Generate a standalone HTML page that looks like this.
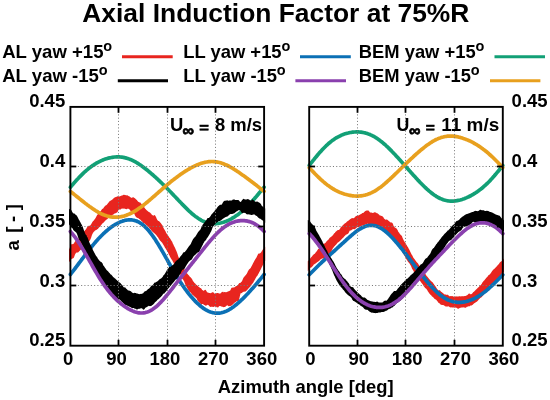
<!DOCTYPE html>
<html><head><meta charset="utf-8"><title>Axial Induction Factor at 75%R</title>
<style>
html,body{margin:0;padding:0;background:#fff;}
svg{display:block;}
text{font-family:"Liberation Sans", "DejaVu Sans", sans-serif;font-weight:bold;fill:#000;}
.g{stroke:#7a7a7a;stroke-width:1;stroke-dasharray:1.05 2.2;}
.t{stroke:#000;stroke-width:1.8;}
</style></head><body>
<svg width="550" height="400" viewBox="0 0 550 400">
<rect width="550" height="400" fill="#fff"/>
<path d="M69.0,249.5 L69.6,248.3 L70.2,246.4 L70.8,245.3 L71.4,244.2 L72.0,244.1 L72.6,244.3 L73.2,244.1 L73.8,243.5 L74.4,242.5 L75.0,241.6 L75.6,241.1 L76.2,240.8 L76.8,240.2 L77.4,239.7 L78.0,239.1 L78.6,238.6 L79.2,238.0 L79.8,237.7 L80.4,236.8 L81.0,236.2 L81.6,235.1 L82.2,233.9 L82.8,232.8 L83.4,232.2 L84.0,231.5 L84.6,231.1 L85.2,230.0 L85.8,229.4 L86.4,228.5 L87.0,227.6 L87.6,226.3 L88.2,226.0 L88.8,225.7 L89.4,225.8 L90.0,225.7 L90.6,225.1 L91.2,224.2 L91.8,222.9 L92.4,222.1 L93.0,221.2 L93.6,220.7 L94.2,219.8 L94.8,219.3 L95.4,218.2 L96.0,217.3 L96.6,215.9 L97.2,215.1 L97.8,214.2 L98.4,213.8 L99.0,212.9 L99.6,212.1 L100.2,211.5 L100.8,210.9 L101.4,210.0 L102.0,209.3 L102.6,208.8 L103.2,208.4 L103.8,207.5 L104.4,206.8 L105.0,206.0 L105.6,205.4 L106.2,205.2 L106.8,204.7 L107.4,203.9 L108.0,203.2 L108.6,202.4 L109.2,201.7 L109.8,200.9 L110.4,200.7 L111.0,200.6 L111.6,200.1 L112.2,199.7 L112.8,199.0 L113.4,198.4 L114.0,198.0 L114.6,197.5 L115.2,197.2 L115.8,197.1 L116.4,196.8 L117.0,196.7 L117.6,196.1 L118.2,196.7 L118.8,196.6 L119.4,196.5 L120.0,196.3 L120.6,196.0 L121.2,195.8 L121.8,195.6 L122.4,195.5 L123.0,194.9 L123.6,194.8 L124.2,194.9 L124.8,194.7 L125.4,195.2 L126.0,195.1 L126.6,195.4 L127.2,195.3 L127.8,195.6 L128.4,195.9 L129.0,196.2 L129.6,196.4 L130.2,197.1 L130.8,197.5 L131.4,197.9 L132.0,197.6 L132.6,197.5 L133.2,197.3 L133.8,197.6 L134.4,198.0 L135.0,198.3 L135.6,198.9 L136.2,199.4 L136.8,199.9 L137.4,200.8 L138.0,201.6 L138.6,202.0 L139.2,202.3 L139.8,202.4 L140.4,202.6 L141.0,203.6 L141.6,203.9 L142.2,205.0 L142.8,205.6 L143.4,206.4 L144.0,207.0 L144.6,207.8 L145.2,208.8 L145.8,209.3 L146.4,209.9 L147.0,210.4 L147.6,210.9 L148.2,211.5 L148.8,211.9 L149.4,212.3 L150.0,212.5 L150.6,213.3 L151.2,213.7 L151.8,214.7 L152.4,215.3 L153.0,215.3 L153.6,215.7 L154.2,215.2 L154.8,215.1 L155.4,215.9 L156.0,216.9 L156.6,218.4 L157.2,219.8 L157.8,220.5 L158.4,221.0 L159.0,221.0 L159.6,221.8 L160.2,222.6 L160.8,223.1 L161.4,223.9 L162.0,224.8 L162.6,225.6 L163.2,227.2 L163.8,228.4 L164.4,229.5 L165.0,230.5 L165.6,231.6 L166.2,233.0 L166.8,233.7 L167.4,234.7 L168.0,235.6 L168.6,236.2 L169.2,237.4 L169.8,238.0 L170.4,239.1 L171.0,239.9 L171.6,240.9 L172.2,241.8 L172.8,243.4 L173.4,244.6 L174.0,245.9 L174.6,247.0 L175.2,248.2 L175.8,249.7 L176.4,251.0 L177.0,252.5 L177.6,254.2 L178.2,256.2 L178.8,257.8 L179.4,259.4 L180.0,260.7 L180.6,261.8 L181.2,263.1 L181.8,264.5 L182.4,265.5 L183.0,266.5 L183.6,267.7 L184.2,269.0 L184.8,269.8 L185.4,271.1 L186.0,272.2 L186.6,273.2 L187.2,273.5 L187.8,274.2 L188.4,275.0 L189.0,275.5 L189.6,276.5 L190.2,276.9 L190.8,277.4 L191.4,278.3 L192.0,279.0 L192.6,280.3 L193.2,281.5 L193.8,281.8 L194.4,282.9 L195.0,283.3 L195.6,284.1 L196.2,284.7 L196.8,284.9 L197.4,285.6 L198.0,286.2 L198.6,286.7 L199.2,287.1 L199.8,287.8 L200.4,288.0 L201.0,288.3 L201.6,289.0 L202.2,289.9 L202.8,290.2 L203.4,290.7 L204.0,290.7 L204.6,290.1 L205.2,289.8 L205.8,290.0 L206.4,290.9 L207.0,292.1 L207.6,292.6 L208.2,292.8 L208.8,292.8 L209.4,293.0 L210.0,293.0 L210.6,293.2 L211.2,292.9 L211.8,292.4 L212.4,292.3 L213.0,292.3 L213.6,292.6 L214.2,293.4 L214.8,293.5 L215.4,293.9 L216.0,293.5 L216.6,293.0 L217.2,293.0 L217.8,292.9 L218.4,293.0 L219.0,293.7 L219.6,293.6 L220.2,293.3 L220.8,293.4 L221.4,292.3 L222.0,292.2 L222.6,291.8 L223.2,291.8 L223.8,292.4 L224.4,292.0 L225.0,292.0 L225.6,292.2 L226.2,292.2 L226.8,292.1 L227.4,291.8 L228.0,291.6 L228.6,291.2 L229.2,291.1 L229.8,290.8 L230.4,290.3 L231.0,288.7 L231.6,287.8 L232.2,287.7 L232.8,287.4 L233.4,287.6 L234.0,287.4 L234.6,287.2 L235.2,286.6 L235.8,286.5 L236.4,285.9 L237.0,285.7 L237.6,285.4 L238.2,284.4 L238.8,283.7 L239.4,283.1 L240.0,283.0 L240.6,282.8 L241.2,282.1 L241.8,281.6 L242.4,280.3 L243.0,278.8 L243.6,277.4 L244.2,276.9 L244.8,276.1 L245.4,275.5 L246.0,274.8 L246.6,273.9 L247.2,272.9 L247.8,271.5 L248.4,270.5 L249.0,269.5 L249.6,269.0 L250.2,268.6 L250.8,267.8 L251.4,266.5 L252.0,265.6 L252.6,264.3 L253.2,263.0 L253.8,262.0 L254.4,260.8 L255.0,259.8 L255.6,258.7 L256.2,258.1 L256.8,256.8 L257.4,255.5 L258.0,254.3 L258.6,253.6 L259.2,253.5 L259.8,253.4 L260.4,252.9 L261.0,252.4 L261.6,251.5 L262.2,250.5 L262.8,249.6 L263.4,248.9 L264.0,248.1 L264.6,247.5 L265.2,246.8 L265.2,261.1 L264.6,261.6 L264.0,262.9 L263.4,263.8 L262.8,265.2 L262.2,266.4 L261.6,267.4 L261.0,268.9 L260.4,269.9 L259.8,271.2 L259.2,272.3 L258.6,273.5 L258.0,274.5 L257.4,275.7 L256.8,276.2 L256.2,277.3 L255.6,278.2 L255.0,279.4 L254.4,280.6 L253.8,281.4 L253.2,282.7 L252.6,283.4 L252.0,284.1 L251.4,285.0 L250.8,285.9 L250.2,286.7 L249.6,287.2 L249.0,288.0 L248.4,288.4 L247.8,289.2 L247.2,290.1 L246.6,290.6 L246.0,291.2 L245.4,291.4 L244.8,291.6 L244.2,291.7 L243.6,291.8 L243.0,292.1 L242.4,292.4 L241.8,293.0 L241.2,293.3 L240.6,293.3 L240.0,295.5 L239.4,298.2 L238.8,300.6 L238.2,301.2 L237.6,301.1 L237.0,301.0 L236.4,301.6 L235.8,302.0 L235.2,302.3 L234.6,302.7 L234.0,303.4 L233.4,303.7 L232.8,304.6 L232.2,305.1 L231.6,305.4 L231.0,305.7 L230.4,306.1 L229.8,306.0 L229.2,306.3 L228.6,306.3 L228.0,305.7 L227.4,305.3 L226.8,305.6 L226.2,306.0 L225.6,306.6 L225.0,307.0 L224.4,307.0 L223.8,307.2 L223.2,306.9 L222.6,306.8 L222.0,306.8 L221.4,306.5 L220.8,306.3 L220.2,305.9 L219.6,306.1 L219.0,306.3 L218.4,307.3 L217.8,307.4 L217.2,307.3 L216.6,307.3 L216.0,306.5 L215.4,306.4 L214.8,306.5 L214.2,306.5 L213.6,306.9 L213.0,306.9 L212.4,306.8 L211.8,306.8 L211.2,306.8 L210.6,306.9 L210.0,306.7 L209.4,306.2 L208.8,305.4 L208.2,304.9 L207.6,304.7 L207.0,305.2 L206.4,305.4 L205.8,305.7 L205.2,305.5 L204.6,305.0 L204.0,305.0 L203.4,304.3 L202.8,304.1 L202.2,304.1 L201.6,304.7 L201.0,304.4 L200.4,303.6 L199.8,303.6 L199.2,302.3 L198.6,301.8 L198.0,301.2 L197.4,300.3 L196.8,298.8 L196.2,298.0 L195.6,297.5 L195.0,297.0 L194.4,296.4 L193.8,295.7 L193.2,295.5 L192.6,295.1 L192.0,294.2 L191.4,293.5 L190.8,292.8 L190.2,291.9 L189.6,291.9 L189.0,291.0 L188.4,290.1 L187.8,289.3 L187.2,287.9 L186.6,287.1 L186.0,286.0 L185.4,284.7 L184.8,283.2 L184.2,281.6 L183.6,280.5 L183.0,279.6 L182.4,278.9 L181.8,277.7 L181.2,276.4 L180.6,275.3 L180.0,273.9 L179.4,273.0 L178.8,271.9 L178.2,270.6 L177.6,269.6 L177.0,268.9 L176.4,267.6 L175.8,266.9 L175.2,266.0 L174.6,264.9 L174.0,264.0 L173.4,262.6 L172.8,261.6 L172.2,260.3 L171.6,259.5 L171.0,258.6 L170.4,257.5 L169.8,256.3 L169.2,255.0 L168.6,254.0 L168.0,252.4 L167.4,251.3 L166.8,250.4 L166.2,249.6 L165.6,248.6 L165.0,247.7 L164.4,246.5 L163.8,245.5 L163.2,244.5 L162.6,243.4 L162.0,242.5 L161.4,241.9 L160.8,241.3 L160.2,240.7 L159.6,240.0 L159.0,238.9 L158.4,237.9 L157.8,237.0 L157.2,236.4 L156.6,235.4 L156.0,234.7 L155.4,234.3 L154.8,233.5 L154.2,233.2 L153.6,232.5 L153.0,232.3 L152.4,231.5 L151.8,230.9 L151.2,230.2 L150.6,229.3 L150.0,228.9 L149.4,228.2 L148.8,227.3 L148.2,226.8 L147.6,226.3 L147.0,225.6 L146.4,225.2 L145.8,224.6 L145.2,224.2 L144.6,223.3 L144.0,223.4 L143.4,223.0 L142.8,222.5 L142.2,221.6 L141.6,220.9 L141.0,220.4 L140.4,219.8 L139.8,219.3 L139.2,219.1 L138.6,218.6 L138.0,217.7 L137.4,217.9 L136.8,217.8 L136.2,217.1 L135.6,216.5 L135.0,215.4 L134.4,214.0 L133.8,212.7 L133.2,212.2 L132.6,211.8 L132.0,211.8 L131.4,211.5 L130.8,211.0 L130.2,210.5 L129.6,209.5 L129.0,208.9 L128.4,208.8 L127.8,208.6 L127.2,209.1 L126.6,209.2 L126.0,209.1 L125.4,208.9 L124.8,208.6 L124.2,208.7 L123.6,208.4 L123.0,208.8 L122.4,208.5 L121.8,208.6 L121.2,209.1 L120.6,209.4 L120.0,209.5 L119.4,209.6 L118.8,209.7 L118.2,210.5 L117.6,211.9 L117.0,212.4 L116.4,212.8 L115.8,213.3 L115.2,213.2 L114.6,213.6 L114.0,214.0 L113.4,214.5 L112.8,214.8 L112.2,215.1 L111.6,215.6 L111.0,216.2 L110.4,217.1 L109.8,217.9 L109.2,218.0 L108.6,217.9 L108.0,218.2 L107.4,219.0 L106.8,219.5 L106.2,219.8 L105.6,220.3 L105.0,221.2 L104.4,221.6 L103.8,222.3 L103.2,223.0 L102.6,223.2 L102.0,224.0 L101.4,224.8 L100.8,225.6 L100.2,226.6 L99.6,227.1 L99.0,227.6 L98.4,228.2 L97.8,228.9 L97.2,229.2 L96.6,229.9 L96.0,229.7 L95.4,230.4 L94.8,230.8 L94.2,231.4 L93.6,231.9 L93.0,233.0 L92.4,234.1 L91.8,235.4 L91.2,237.4 L90.6,239.1 L90.0,240.2 L89.4,241.1 L88.8,241.8 L88.2,242.7 L87.6,243.2 L87.0,243.8 L86.4,244.4 L85.8,244.7 L85.2,245.0 L84.6,245.5 L84.0,245.9 L83.4,246.5 L82.8,247.0 L82.2,247.7 L81.6,248.6 L81.0,249.6 L80.4,250.1 L79.8,250.7 L79.2,251.2 L78.6,252.0 L78.0,252.4 L77.4,252.6 L76.8,252.5 L76.2,252.7 L75.6,253.4 L75.0,254.5 L74.4,256.3 L73.8,257.7 L73.2,258.2 L72.6,258.6 L72.0,258.7 L71.4,259.3 L70.8,259.7 L70.2,260.6 L69.6,261.4 L69.0,262.2Z" fill="#e8251f"/>
<path d="M70.4,274.5 L71.4,273.2 L72.4,271.9 L73.4,270.6 L74.4,269.3 L75.4,268.0 L76.4,266.7 L77.4,265.3 L78.4,264.0 L79.4,262.7 L80.4,261.4 L81.4,260.0 L82.4,258.7 L83.4,257.4 L84.4,256.0 L85.4,254.7 L86.4,253.4 L87.4,252.1 L88.4,250.8 L89.4,249.5 L90.4,248.3 L91.4,247.0 L92.4,245.8 L93.4,244.6 L94.4,243.4 L95.4,242.2 L96.4,241.0 L97.4,239.9 L98.4,238.8 L99.4,237.8 L100.4,236.7 L101.4,235.7 L102.4,234.7 L103.4,233.7 L104.4,232.8 L105.4,231.9 L106.4,231.0 L107.4,230.2 L108.4,229.3 L109.4,228.5 L110.4,227.8 L111.4,227.0 L112.4,226.3 L113.4,225.7 L114.4,225.0 L115.4,224.4 L116.4,223.9 L117.4,223.3 L118.4,222.8 L119.4,222.3 L120.4,221.9 L121.4,221.5 L122.4,221.2 L123.4,220.8 L124.4,220.6 L125.4,220.3 L126.4,220.1 L127.4,220.0 L128.4,219.9 L129.4,219.8 L130.4,219.8 L131.4,219.9 L132.4,220.0 L133.4,220.2 L134.4,220.4 L135.4,220.7 L136.4,221.0 L137.4,221.5 L138.4,221.9 L139.4,222.5 L140.4,223.1 L141.4,223.8 L142.4,224.5 L143.4,225.3 L144.4,226.2 L145.4,227.1 L146.4,228.1 L147.4,229.2 L148.4,230.3 L149.4,231.5 L150.4,232.8 L151.4,234.1 L152.4,235.5 L153.4,236.9 L154.4,238.3 L155.4,239.8 L156.4,241.4 L157.4,243.0 L158.4,244.6 L159.4,246.3 L160.4,247.9 L161.4,249.7 L162.4,251.4 L163.4,253.1 L164.4,254.9 L165.4,256.7 L166.4,258.4 L167.4,260.2 L168.4,262.0 L169.4,263.7 L170.4,265.5 L171.4,267.2 L172.4,269.0 L173.4,270.7 L174.4,272.4 L175.4,274.1 L176.4,275.7 L177.4,277.4 L178.4,279.0 L179.4,280.5 L180.4,282.1 L181.4,283.6 L182.4,285.1 L183.4,286.5 L184.4,288.0 L185.4,289.4 L186.4,290.7 L187.4,292.0 L188.4,293.3 L189.4,294.6 L190.4,295.8 L191.4,297.0 L192.4,298.1 L193.4,299.2 L194.4,300.3 L195.4,301.4 L196.4,302.4 L197.4,303.3 L198.4,304.2 L199.4,305.1 L200.4,306.0 L201.4,306.8 L202.4,307.5 L203.4,308.3 L204.4,308.9 L205.4,309.6 L206.4,310.1 L207.4,310.7 L208.4,311.2 L209.4,311.6 L210.4,312.0 L211.4,312.3 L212.4,312.6 L213.4,312.8 L214.4,313.0 L215.4,313.1 L216.4,313.2 L217.4,313.2 L218.4,313.2 L219.4,313.1 L220.4,313.0 L221.4,312.8 L222.4,312.5 L223.4,312.3 L224.4,311.9 L225.4,311.5 L226.4,311.1 L227.4,310.6 L228.4,310.1 L229.4,309.5 L230.4,308.9 L231.4,308.3 L232.4,307.6 L233.4,306.9 L234.4,306.1 L235.4,305.3 L236.4,304.5 L237.4,303.6 L238.4,302.8 L239.4,301.9 L240.4,301.0 L241.4,300.0 L242.4,299.1 L243.4,298.1 L244.4,297.1 L245.4,296.1 L246.4,295.0 L247.4,294.0 L248.4,292.9 L249.4,291.8 L250.4,290.7 L251.4,289.6 L252.4,288.5 L253.4,287.4 L254.4,286.2 L255.4,285.1 L256.4,283.9 L257.4,282.7 L258.4,281.5 L259.4,280.3 L260.4,279.1 L261.4,277.9 L262.4,276.6 L263.4,275.3 L264.1,274.5" fill="none" stroke="#0b70b5" stroke-width="3.7" stroke-linecap="round" stroke-linejoin="round"/>
<path d="M70.4,187.2 L71.4,186.1 L72.4,184.9 L73.4,183.7 L74.4,182.6 L75.4,181.4 L76.4,180.3 L77.4,179.2 L78.4,178.2 L79.4,177.1 L80.4,176.1 L81.4,175.1 L82.4,174.1 L83.4,173.1 L84.4,172.2 L85.4,171.3 L86.4,170.4 L87.4,169.6 L88.4,168.7 L89.4,167.9 L90.4,167.2 L91.4,166.4 L92.4,165.7 L93.4,165.1 L94.4,164.4 L95.4,163.8 L96.4,163.2 L97.4,162.6 L98.4,162.1 L99.4,161.6 L100.4,161.1 L101.4,160.6 L102.4,160.2 L103.4,159.8 L104.4,159.4 L105.4,159.0 L106.4,158.7 L107.4,158.4 L108.4,158.1 L109.4,157.9 L110.4,157.7 L111.4,157.5 L112.4,157.3 L113.4,157.2 L114.4,157.0 L115.4,157.0 L116.4,156.9 L117.4,156.9 L118.4,156.9 L119.4,156.9 L120.4,157.0 L121.4,157.1 L122.4,157.2 L123.4,157.4 L124.4,157.6 L125.4,157.9 L126.4,158.1 L127.4,158.4 L128.4,158.8 L129.4,159.1 L130.4,159.5 L131.4,159.9 L132.4,160.4 L133.4,160.9 L134.4,161.4 L135.4,161.9 L136.4,162.5 L137.4,163.1 L138.4,163.7 L139.4,164.4 L140.4,165.1 L141.4,165.8 L142.4,166.5 L143.4,167.2 L144.4,168.0 L145.4,168.7 L146.4,169.5 L147.4,170.3 L148.4,171.1 L149.4,172.0 L150.4,172.8 L151.4,173.7 L152.4,174.5 L153.4,175.4 L154.4,176.3 L155.4,177.2 L156.4,178.1 L157.4,179.0 L158.4,180.0 L159.4,180.9 L160.4,181.9 L161.4,182.8 L162.4,183.8 L163.4,184.7 L164.4,185.7 L165.4,186.7 L166.4,187.7 L167.4,188.7 L168.4,189.7 L169.4,190.8 L170.4,191.8 L171.4,192.8 L172.4,193.9 L173.4,194.9 L174.4,196.0 L175.4,197.0 L176.4,198.1 L177.4,199.1 L178.4,200.2 L179.4,201.2 L180.4,202.3 L181.4,203.3 L182.4,204.4 L183.4,205.4 L184.4,206.4 L185.4,207.4 L186.4,208.4 L187.4,209.4 L188.4,210.4 L189.4,211.3 L190.4,212.2 L191.4,213.1 L192.4,214.0 L193.4,214.8 L194.4,215.6 L195.4,216.4 L196.4,217.1 L197.4,217.8 L198.4,218.5 L199.4,219.1 L200.4,219.7 L201.4,220.3 L202.4,220.8 L203.4,221.3 L204.4,221.7 L205.4,222.1 L206.4,222.4 L207.4,222.7 L208.4,223.0 L209.4,223.2 L210.4,223.4 L211.4,223.5 L212.4,223.6 L213.4,223.7 L214.4,223.7 L215.4,223.7 L216.4,223.6 L217.4,223.5 L218.4,223.4 L219.4,223.2 L220.4,223.0 L221.4,222.8 L222.4,222.5 L223.4,222.3 L224.4,221.9 L225.4,221.6 L226.4,221.2 L227.4,220.8 L228.4,220.3 L229.4,219.8 L230.4,219.3 L231.4,218.8 L232.4,218.2 L233.4,217.6 L234.4,217.0 L235.4,216.3 L236.4,215.6 L237.4,214.9 L238.4,214.2 L239.4,213.4 L240.4,212.6 L241.4,211.8 L242.4,210.9 L243.4,210.0 L244.4,209.1 L245.4,208.2 L246.4,207.2 L247.4,206.2 L248.4,205.2 L249.4,204.2 L250.4,203.1 L251.4,202.0 L252.4,200.9 L253.4,199.8 L254.4,198.7 L255.4,197.5 L256.4,196.4 L257.4,195.2 L258.4,194.0 L259.4,192.8 L260.4,191.6 L261.4,190.4 L262.4,189.3 L263.4,188.1 L264.1,187.2" fill="none" stroke="#12a076" stroke-width="3.7" stroke-linecap="round" stroke-linejoin="round"/>
<path d="M69.0,209.6 L69.6,209.0 L70.2,208.9 L70.8,209.4 L71.4,210.3 L72.0,211.4 L72.6,212.5 L73.2,213.2 L73.8,213.4 L74.4,213.5 L75.0,213.9 L75.6,214.8 L76.2,215.2 L76.8,215.6 L77.4,216.7 L78.0,217.7 L78.6,219.2 L79.2,220.1 L79.8,221.2 L80.4,222.3 L81.0,223.6 L81.6,224.4 L82.2,225.7 L82.8,227.1 L83.4,228.8 L84.0,230.5 L84.6,232.1 L85.2,233.5 L85.8,234.7 L86.4,235.1 L87.0,236.8 L87.6,237.6 L88.2,239.2 L88.8,240.8 L89.4,242.5 L90.0,243.7 L90.6,244.9 L91.2,246.1 L91.8,247.5 L92.4,248.8 L93.0,250.3 L93.6,251.3 L94.2,252.5 L94.8,253.6 L95.4,254.7 L96.0,255.7 L96.6,256.5 L97.2,257.3 L97.8,258.6 L98.4,259.3 L99.0,260.2 L99.6,260.7 L100.2,261.5 L100.8,261.8 L101.4,262.0 L102.0,262.8 L102.6,263.6 L103.2,265.2 L103.8,266.1 L104.4,266.7 L105.0,267.8 L105.6,268.5 L106.2,269.4 L106.8,270.2 L107.4,270.7 L108.0,271.3 L108.6,272.1 L109.2,272.7 L109.8,273.3 L110.4,274.3 L111.0,274.6 L111.6,275.1 L112.2,275.7 L112.8,276.6 L113.4,277.3 L114.0,277.6 L114.6,278.3 L115.2,278.6 L115.8,279.3 L116.4,279.8 L117.0,280.3 L117.6,280.9 L118.2,281.1 L118.8,282.4 L119.4,282.2 L120.0,282.7 L120.6,283.3 L121.2,284.0 L121.8,284.8 L122.4,285.3 L123.0,286.3 L123.6,287.2 L124.2,287.3 L124.8,287.4 L125.4,287.5 L126.0,288.5 L126.6,289.0 L127.2,289.5 L127.8,290.2 L128.4,290.6 L129.0,290.6 L129.6,290.7 L130.2,290.9 L130.8,291.2 L131.4,291.8 L132.0,292.4 L132.6,292.8 L133.2,293.2 L133.8,293.1 L134.4,292.7 L135.0,293.0 L135.6,293.0 L136.2,293.3 L136.8,293.6 L137.4,293.5 L138.0,293.8 L138.6,293.9 L139.2,294.1 L139.8,294.3 L140.4,294.0 L141.0,293.7 L141.6,293.9 L142.2,293.6 L142.8,293.6 L143.4,292.9 L144.0,292.0 L144.6,291.4 L145.2,291.3 L145.8,291.0 L146.4,290.7 L147.0,290.3 L147.6,289.6 L148.2,289.1 L148.8,288.8 L149.4,288.2 L150.0,287.6 L150.6,286.8 L151.2,286.1 L151.8,285.6 L152.4,285.2 L153.0,284.8 L153.6,284.0 L154.2,283.1 L154.8,282.6 L155.4,282.6 L156.0,282.3 L156.6,281.7 L157.2,281.6 L157.8,281.0 L158.4,280.5 L159.0,279.8 L159.6,279.3 L160.2,278.9 L160.8,278.6 L161.4,278.3 L162.0,277.6 L162.6,277.0 L163.2,275.8 L163.8,274.9 L164.4,274.5 L165.0,273.6 L165.6,272.4 L166.2,271.4 L166.8,270.3 L167.4,269.6 L168.0,268.7 L168.6,268.0 L169.2,267.0 L169.8,266.9 L170.4,266.9 L171.0,266.4 L171.6,265.8 L172.2,265.4 L172.8,264.9 L173.4,264.5 L174.0,263.9 L174.6,263.0 L175.2,262.1 L175.8,261.2 L176.4,260.8 L177.0,260.1 L177.6,259.7 L178.2,259.4 L178.8,258.6 L179.4,258.0 L180.0,257.1 L180.6,256.2 L181.2,255.6 L181.8,255.0 L182.4,254.0 L183.0,252.9 L183.6,252.3 L184.2,252.2 L184.8,252.0 L185.4,251.2 L186.0,250.5 L186.6,249.8 L187.2,248.7 L187.8,248.0 L188.4,247.1 L189.0,246.3 L189.6,245.4 L190.2,244.8 L190.8,244.0 L191.4,242.4 L192.0,241.2 L192.6,240.0 L193.2,239.0 L193.8,238.2 L194.4,237.6 L195.0,237.0 L195.6,236.3 L196.2,235.3 L196.8,234.2 L197.4,233.2 L198.0,232.3 L198.6,231.4 L199.2,230.8 L199.8,230.3 L200.4,229.4 L201.0,228.2 L201.6,226.7 L202.2,225.7 L202.8,224.6 L203.4,224.0 L204.0,222.9 L204.6,222.2 L205.2,221.5 L205.8,220.7 L206.4,220.1 L207.0,219.0 L207.6,218.1 L208.2,218.1 L208.8,218.0 L209.4,217.6 L210.0,216.7 L210.6,216.0 L211.2,215.0 L211.8,214.0 L212.4,213.5 L213.0,213.0 L213.6,212.0 L214.2,211.7 L214.8,210.6 L215.4,210.0 L216.0,209.4 L216.6,208.4 L217.2,207.6 L217.8,206.7 L218.4,206.1 L219.0,205.7 L219.6,204.9 L220.2,204.7 L220.8,204.7 L221.4,204.7 L222.0,204.2 L222.6,203.1 L223.2,201.9 L223.8,201.2 L224.4,201.0 L225.0,200.6 L225.6,200.7 L226.2,200.8 L226.8,200.2 L227.4,200.2 L228.0,200.7 L228.6,200.7 L229.2,200.5 L229.8,200.5 L230.4,200.5 L231.0,200.6 L231.6,200.4 L232.2,200.3 L232.8,199.6 L233.4,199.4 L234.0,199.5 L234.6,199.5 L235.2,199.9 L235.8,200.0 L236.4,199.9 L237.0,200.1 L237.6,200.1 L238.2,200.0 L238.8,200.3 L239.4,201.0 L240.0,201.7 L240.6,202.0 L241.2,201.6 L241.8,200.5 L242.4,199.7 L243.0,199.2 L243.6,198.8 L244.2,199.1 L244.8,199.4 L245.4,199.4 L246.0,199.5 L246.6,199.5 L247.2,199.1 L247.8,199.2 L248.4,199.3 L249.0,199.6 L249.6,200.0 L250.2,200.5 L250.8,200.5 L251.4,200.4 L252.0,199.6 L252.6,199.6 L253.2,199.9 L253.8,200.3 L254.4,201.0 L255.0,201.6 L255.6,201.7 L256.2,201.7 L256.8,201.5 L257.4,201.5 L258.0,202.1 L258.6,202.2 L259.2,202.8 L259.8,202.8 L260.4,203.4 L261.0,204.3 L261.6,205.6 L262.2,206.2 L262.8,206.6 L263.4,207.4 L264.0,207.6 L264.6,208.0 L265.2,208.5 L265.2,222.8 L264.6,222.2 L264.0,221.5 L263.4,220.9 L262.8,220.5 L262.2,220.2 L261.6,219.7 L261.0,219.2 L260.4,218.7 L259.8,218.7 L259.2,218.2 L258.6,217.9 L258.0,217.3 L257.4,216.7 L256.8,215.8 L256.2,215.9 L255.6,215.5 L255.0,214.8 L254.4,214.6 L253.8,214.4 L253.2,214.6 L252.6,214.8 L252.0,214.9 L251.4,215.0 L250.8,214.8 L250.2,214.8 L249.6,214.5 L249.0,214.4 L248.4,214.2 L247.8,214.4 L247.2,214.2 L246.6,214.3 L246.0,213.8 L245.4,213.0 L244.8,213.0 L244.2,212.7 L243.6,212.8 L243.0,213.0 L242.4,213.2 L241.8,212.9 L241.2,212.1 L240.6,211.1 L240.0,210.2 L239.4,210.3 L238.8,210.4 L238.2,210.1 L237.6,210.9 L237.0,211.2 L236.4,211.5 L235.8,212.0 L235.2,212.6 L234.6,213.0 L234.0,213.4 L233.4,213.6 L232.8,213.7 L232.2,213.9 L231.6,213.9 L231.0,214.1 L230.4,214.1 L229.8,214.4 L229.2,214.8 L228.6,215.6 L228.0,216.1 L227.4,216.4 L226.8,216.7 L226.2,216.7 L225.6,217.0 L225.0,217.4 L224.4,217.7 L223.8,218.3 L223.2,218.4 L222.6,219.1 L222.0,219.5 L221.4,219.9 L220.8,220.4 L220.2,220.8 L219.6,221.0 L219.0,220.9 L218.4,221.3 L217.8,221.9 L217.2,222.3 L216.6,222.7 L216.0,223.0 L215.4,223.8 L214.8,224.4 L214.2,224.9 L213.6,225.9 L213.0,226.7 L212.4,227.9 L211.8,229.8 L211.2,231.3 L210.6,232.2 L210.0,233.6 L209.4,234.6 L208.8,235.5 L208.2,236.4 L207.6,237.5 L207.0,238.0 L206.4,239.2 L205.8,240.2 L205.2,240.8 L204.6,241.3 L204.0,242.5 L203.4,243.3 L202.8,244.8 L202.2,245.8 L201.6,247.0 L201.0,248.2 L200.4,249.3 L199.8,250.8 L199.2,251.7 L198.6,251.9 L198.0,252.3 L197.4,252.8 L196.8,253.2 L196.2,253.7 L195.6,254.5 L195.0,255.0 L194.4,255.5 L193.8,256.1 L193.2,257.1 L192.6,258.1 L192.0,259.0 L191.4,259.7 L190.8,260.3 L190.2,260.3 L189.6,261.0 L189.0,261.4 L188.4,262.2 L187.8,263.3 L187.2,263.9 L186.6,264.9 L186.0,265.9 L185.4,267.1 L184.8,268.2 L184.2,268.9 L183.6,269.3 L183.0,269.7 L182.4,269.8 L181.8,270.7 L181.2,271.9 L180.6,273.4 L180.0,274.3 L179.4,275.5 L178.8,276.3 L178.2,276.9 L177.6,277.8 L177.0,278.7 L176.4,279.0 L175.8,279.5 L175.2,280.3 L174.6,280.9 L174.0,281.7 L173.4,282.5 L172.8,283.1 L172.2,284.0 L171.6,284.6 L171.0,285.5 L170.4,285.9 L169.8,286.8 L169.2,287.4 L168.6,288.2 L168.0,288.8 L167.4,289.7 L166.8,290.6 L166.2,291.3 L165.6,292.1 L165.0,292.6 L164.4,293.5 L163.8,293.5 L163.2,293.9 L162.6,294.8 L162.0,295.8 L161.4,296.3 L160.8,297.1 L160.2,297.5 L159.6,298.0 L159.0,298.7 L158.4,299.3 L157.8,299.6 L157.2,300.3 L156.6,300.9 L156.0,301.6 L155.4,301.9 L154.8,302.4 L154.2,303.4 L153.6,304.0 L153.0,304.7 L152.4,305.1 L151.8,305.6 L151.2,305.9 L150.6,306.0 L150.0,306.3 L149.4,306.0 L148.8,305.8 L148.2,306.3 L147.6,306.4 L147.0,307.0 L146.4,307.2 L145.8,307.6 L145.2,307.9 L144.6,308.9 L144.0,309.4 L143.4,309.7 L142.8,309.3 L142.2,308.4 L141.6,308.2 L141.0,308.3 L140.4,308.6 L139.8,308.6 L139.2,309.1 L138.6,308.8 L138.0,308.9 L137.4,309.5 L136.8,309.5 L136.2,309.3 L135.6,308.8 L135.0,308.8 L134.4,308.5 L133.8,308.1 L133.2,308.1 L132.6,308.3 L132.0,308.1 L131.4,307.8 L130.8,307.3 L130.2,307.0 L129.6,306.7 L129.0,306.5 L128.4,306.3 L127.8,306.0 L127.2,305.6 L126.6,305.4 L126.0,305.1 L125.4,305.1 L124.8,304.6 L124.2,304.1 L123.6,303.6 L123.0,302.9 L122.4,302.2 L121.8,301.8 L121.2,301.3 L120.6,300.4 L120.0,299.7 L119.4,299.4 L118.8,299.3 L118.2,299.8 L117.6,299.5 L117.0,299.2 L116.4,298.6 L115.8,297.5 L115.2,296.9 L114.6,296.6 L114.0,295.6 L113.4,295.4 L112.8,294.7 L112.2,294.1 L111.6,293.8 L111.0,293.6 L110.4,293.2 L109.8,292.8 L109.2,291.5 L108.6,290.2 L108.0,289.3 L107.4,288.5 L106.8,287.8 L106.2,287.7 L105.6,286.9 L105.0,286.2 L104.4,285.5 L103.8,284.2 L103.2,283.4 L102.6,282.4 L102.0,281.3 L101.4,280.3 L100.8,279.4 L100.2,278.5 L99.6,277.6 L99.0,276.5 L98.4,275.5 L97.8,274.5 L97.2,273.6 L96.6,272.4 L96.0,271.5 L95.4,270.6 L94.8,269.5 L94.2,269.2 L93.6,268.3 L93.0,267.2 L92.4,266.2 L91.8,265.7 L91.2,264.7 L90.6,263.8 L90.0,262.0 L89.4,260.5 L88.8,259.0 L88.2,258.0 L87.6,257.0 L87.0,255.9 L86.4,254.7 L85.8,253.6 L85.2,252.1 L84.6,250.5 L84.0,249.1 L83.4,247.7 L82.8,246.2 L82.2,244.7 L81.6,243.6 L81.0,242.2 L80.4,241.1 L79.8,240.6 L79.2,239.8 L78.6,238.6 L78.0,236.9 L77.4,235.0 L76.8,233.4 L76.2,232.6 L75.6,231.9 L75.0,231.6 L74.4,231.0 L73.8,230.4 L73.2,229.8 L72.6,228.6 L72.0,227.7 L71.4,227.2 L70.8,226.4 L70.2,225.9 L69.6,224.9 L69.0,224.4Z" fill="#000000"/>
<path d="M70.4,231.5 L71.4,232.7 L72.4,233.8 L73.4,235.1 L74.4,236.4 L75.4,237.7 L76.4,239.1 L77.4,240.6 L78.4,242.1 L79.4,243.6 L80.4,245.2 L81.4,246.8 L82.4,248.4 L83.4,250.1 L84.4,251.8 L85.4,253.6 L86.4,255.3 L87.4,257.1 L88.4,258.9 L89.4,260.7 L90.4,262.4 L91.4,264.2 L92.4,266.0 L93.4,267.8 L94.4,269.5 L95.4,271.2 L96.4,272.9 L97.4,274.6 L98.4,276.3 L99.4,277.9 L100.4,279.5 L101.4,281.0 L102.4,282.5 L103.4,284.0 L104.4,285.5 L105.4,286.9 L106.4,288.2 L107.4,289.5 L108.4,290.8 L109.4,292.0 L110.4,293.2 L111.4,294.4 L112.4,295.5 L113.4,296.6 L114.4,297.6 L115.4,298.6 L116.4,299.6 L117.4,300.6 L118.4,301.5 L119.4,302.3 L120.4,303.2 L121.4,304.0 L122.4,304.8 L123.4,305.5 L124.4,306.3 L125.4,307.0 L126.4,307.6 L127.4,308.3 L128.4,308.9 L129.4,309.4 L130.4,310.0 L131.4,310.4 L132.4,310.9 L133.4,311.3 L134.4,311.7 L135.4,312.0 L136.4,312.3 L137.4,312.6 L138.4,312.8 L139.4,312.9 L140.4,313.0 L141.4,313.0 L142.4,313.0 L143.4,312.9 L144.4,312.8 L145.4,312.6 L146.4,312.3 L147.4,312.0 L148.4,311.6 L149.4,311.2 L150.4,310.7 L151.4,310.1 L152.4,309.5 L153.4,308.8 L154.4,308.1 L155.4,307.3 L156.4,306.5 L157.4,305.6 L158.4,304.6 L159.4,303.7 L160.4,302.6 L161.4,301.6 L162.4,300.5 L163.4,299.4 L164.4,298.2 L165.4,297.0 L166.4,295.8 L167.4,294.6 L168.4,293.4 L169.4,292.1 L170.4,290.8 L171.4,289.6 L172.4,288.3 L173.4,287.0 L174.4,285.7 L175.4,284.4 L176.4,283.2 L177.4,281.9 L178.4,280.6 L179.4,279.3 L180.4,278.0 L181.4,276.8 L182.4,275.5 L183.4,274.2 L184.4,273.0 L185.4,271.7 L186.4,270.5 L187.4,269.2 L188.4,268.0 L189.4,266.7 L190.4,265.4 L191.4,264.2 L192.4,262.9 L193.4,261.7 L194.4,260.4 L195.4,259.2 L196.4,257.9 L197.4,256.6 L198.4,255.4 L199.4,254.1 L200.4,252.9 L201.4,251.6 L202.4,250.3 L203.4,249.1 L204.4,247.8 L205.4,246.6 L206.4,245.4 L207.4,244.1 L208.4,242.9 L209.4,241.7 L210.4,240.6 L211.4,239.4 L212.4,238.3 L213.4,237.2 L214.4,236.1 L215.4,235.0 L216.4,234.0 L217.4,233.0 L218.4,232.0 L219.4,231.1 L220.4,230.2 L221.4,229.3 L222.4,228.5 L223.4,227.7 L224.4,227.0 L225.4,226.3 L226.4,225.7 L227.4,225.0 L228.4,224.5 L229.4,223.9 L230.4,223.4 L231.4,223.0 L232.4,222.6 L233.4,222.2 L234.4,221.9 L235.4,221.6 L236.4,221.3 L237.4,221.1 L238.4,220.9 L239.4,220.8 L240.4,220.7 L241.4,220.6 L242.4,220.6 L243.4,220.6 L244.4,220.7 L245.4,220.8 L246.4,220.9 L247.4,221.1 L248.4,221.4 L249.4,221.6 L250.4,221.9 L251.4,222.3 L252.4,222.7 L253.4,223.2 L254.4,223.7 L255.4,224.3 L256.4,224.9 L257.4,225.6 L258.4,226.3 L259.4,227.1 L260.4,227.9 L261.4,228.8 L262.4,229.8 L263.4,230.8 L264.1,231.5" fill="none" stroke="#8a40ae" stroke-width="3.7" stroke-linecap="round" stroke-linejoin="round"/>
<path d="M70.4,191.4 L71.4,192.2 L72.4,193.0 L73.4,193.8 L74.4,194.6 L75.4,195.4 L76.4,196.2 L77.4,197.0 L78.4,197.8 L79.4,198.6 L80.4,199.4 L81.4,200.2 L82.4,201.0 L83.4,201.8 L84.4,202.6 L85.4,203.4 L86.4,204.1 L87.4,204.9 L88.4,205.6 L89.4,206.4 L90.4,207.1 L91.4,207.8 L92.4,208.5 L93.4,209.2 L94.4,209.8 L95.4,210.5 L96.4,211.1 L97.4,211.7 L98.4,212.3 L99.4,212.8 L100.4,213.3 L101.4,213.8 L102.4,214.3 L103.4,214.7 L104.4,215.1 L105.4,215.4 L106.4,215.8 L107.4,216.1 L108.4,216.3 L109.4,216.6 L110.4,216.8 L111.4,216.9 L112.4,217.1 L113.4,217.1 L114.4,217.2 L115.4,217.2 L116.4,217.2 L117.4,217.2 L118.4,217.1 L119.4,217.0 L120.4,216.8 L121.4,216.6 L122.4,216.4 L123.4,216.2 L124.4,215.9 L125.4,215.6 L126.4,215.2 L127.4,214.8 L128.4,214.4 L129.4,214.0 L130.4,213.5 L131.4,213.0 L132.4,212.5 L133.4,212.0 L134.4,211.4 L135.4,210.8 L136.4,210.2 L137.4,209.5 L138.4,208.8 L139.4,208.1 L140.4,207.4 L141.4,206.7 L142.4,206.0 L143.4,205.2 L144.4,204.4 L145.4,203.6 L146.4,202.8 L147.4,202.0 L148.4,201.1 L149.4,200.3 L150.4,199.4 L151.4,198.6 L152.4,197.7 L153.4,196.8 L154.4,196.0 L155.4,195.1 L156.4,194.2 L157.4,193.3 L158.4,192.4 L159.4,191.5 L160.4,190.7 L161.4,189.8 L162.4,188.9 L163.4,188.0 L164.4,187.2 L165.4,186.3 L166.4,185.5 L167.4,184.6 L168.4,183.8 L169.4,183.0 L170.4,182.1 L171.4,181.3 L172.4,180.5 L173.4,179.8 L174.4,179.0 L175.4,178.2 L176.4,177.5 L177.4,176.7 L178.4,176.0 L179.4,175.3 L180.4,174.5 L181.4,173.8 L182.4,173.2 L183.4,172.5 L184.4,171.8 L185.4,171.2 L186.4,170.6 L187.4,170.0 L188.4,169.4 L189.4,168.8 L190.4,168.2 L191.4,167.7 L192.4,167.1 L193.4,166.6 L194.4,166.1 L195.4,165.6 L196.4,165.2 L197.4,164.8 L198.4,164.4 L199.4,164.0 L200.4,163.6 L201.4,163.3 L202.4,163.0 L203.4,162.7 L204.4,162.4 L205.4,162.2 L206.4,162.0 L207.4,161.9 L208.4,161.7 L209.4,161.6 L210.4,161.6 L211.4,161.5 L212.4,161.5 L213.4,161.6 L214.4,161.7 L215.4,161.8 L216.4,161.9 L217.4,162.1 L218.4,162.3 L219.4,162.5 L220.4,162.8 L221.4,163.1 L222.4,163.4 L223.4,163.8 L224.4,164.2 L225.4,164.6 L226.4,165.0 L227.4,165.5 L228.4,166.0 L229.4,166.5 L230.4,167.1 L231.4,167.6 L232.4,168.2 L233.4,168.8 L234.4,169.5 L235.4,170.1 L236.4,170.7 L237.4,171.4 L238.4,172.1 L239.4,172.8 L240.4,173.5 L241.4,174.2 L242.4,174.9 L243.4,175.6 L244.4,176.3 L245.4,177.0 L246.4,177.8 L247.4,178.5 L248.4,179.3 L249.4,180.0 L250.4,180.8 L251.4,181.5 L252.4,182.3 L253.4,183.0 L254.4,183.8 L255.4,184.6 L256.4,185.3 L257.4,186.1 L258.4,186.9 L259.4,187.7 L260.4,188.4 L261.4,189.2 L262.4,190.0 L263.4,190.8 L264.1,191.4" fill="none" stroke="#e8a01e" stroke-width="3.7" stroke-linecap="round" stroke-linejoin="round"/>
<line x1="118.5" y1="107.9" x2="118.5" y2="345.7" class="g"/>
<line x1="167.5" y1="107.9" x2="167.5" y2="345.7" class="g"/>
<line x1="215.5" y1="107.9" x2="215.5" y2="345.7" class="g"/>
<line x1="71.4" y1="166.5" x2="264.1" y2="166.5" class="g"/>
<line x1="71.4" y1="226.5" x2="264.1" y2="226.5" class="g"/>
<line x1="71.4" y1="285.5" x2="264.1" y2="285.5" class="g"/>
<line x1="118.5" y1="345.7" x2="118.5" y2="339.8" class="t"/>
<line x1="118.5" y1="106.9" x2="118.5" y2="112.80000000000001" class="t"/>
<line x1="167.5" y1="345.7" x2="167.5" y2="339.8" class="t"/>
<line x1="167.5" y1="106.9" x2="167.5" y2="112.80000000000001" class="t"/>
<line x1="215.5" y1="345.7" x2="215.5" y2="339.8" class="t"/>
<line x1="215.5" y1="106.9" x2="215.5" y2="112.80000000000001" class="t"/>
<line x1="70.4" y1="166.5" x2="76.30000000000001" y2="166.5" class="t"/>
<line x1="264.1" y1="166.5" x2="258.20000000000005" y2="166.5" class="t"/>
<line x1="70.4" y1="226.5" x2="76.30000000000001" y2="226.5" class="t"/>
<line x1="264.1" y1="226.5" x2="258.20000000000005" y2="226.5" class="t"/>
<line x1="70.4" y1="285.5" x2="76.30000000000001" y2="285.5" class="t"/>
<line x1="264.1" y1="285.5" x2="258.20000000000005" y2="285.5" class="t"/>
<rect x="70.4" y="106.9" width="193.7" height="238.8" fill="none" stroke="#000" stroke-width="1.9"/>
<path d="M307.8,261.2 L308.4,260.7 L309.0,259.9 L309.6,259.4 L310.2,258.4 L310.8,257.7 L311.4,256.9 L312.0,256.5 L312.6,255.6 L313.2,254.9 L313.8,254.3 L314.4,254.0 L315.0,253.5 L315.6,252.6 L316.2,251.9 L316.8,251.0 L317.4,250.2 L318.0,249.3 L318.6,248.8 L319.2,248.3 L319.8,247.6 L320.4,247.0 L321.0,246.1 L321.6,245.0 L322.2,244.4 L322.8,243.9 L323.4,243.4 L324.0,243.7 L324.6,243.6 L325.2,243.0 L325.8,242.4 L326.4,241.6 L327.0,241.1 L327.6,240.3 L328.2,240.0 L328.8,238.9 L329.4,238.2 L330.0,237.6 L330.6,237.2 L331.2,236.8 L331.8,236.3 L332.4,235.8 L333.0,235.1 L333.6,234.2 L334.2,233.3 L334.8,232.9 L335.4,232.1 L336.0,231.6 L336.6,231.0 L337.2,230.6 L337.8,230.0 L338.4,229.9 L339.0,229.9 L339.6,229.3 L340.2,228.5 L340.8,227.3 L341.4,226.7 L342.0,226.2 L342.6,225.5 L343.2,224.8 L343.8,224.4 L344.4,223.8 L345.0,223.3 L345.6,223.1 L346.2,222.5 L346.8,221.7 L347.4,221.3 L348.0,221.0 L348.6,220.4 L349.2,220.1 L349.8,219.5 L350.4,219.1 L351.0,218.7 L351.6,218.2 L352.2,218.0 L352.8,218.3 L353.4,218.2 L354.0,218.0 L354.6,217.5 L355.2,216.7 L355.8,216.2 L356.4,215.8 L357.0,215.9 L357.6,215.9 L358.2,215.6 L358.8,215.3 L359.4,215.1 L360.0,214.6 L360.6,214.2 L361.2,213.9 L361.8,213.5 L362.4,213.1 L363.0,213.0 L363.6,212.8 L364.2,212.0 L364.8,211.4 L365.4,211.0 L366.0,210.7 L366.6,210.6 L367.2,210.6 L367.8,210.4 L368.4,210.6 L369.0,211.0 L369.6,212.1 L370.2,212.4 L370.8,212.4 L371.4,212.5 L372.0,212.8 L372.6,212.9 L373.2,212.8 L373.8,212.7 L374.4,212.2 L375.0,212.3 L375.6,212.5 L376.2,212.7 L376.8,213.3 L377.4,213.3 L378.0,213.8 L378.6,214.3 L379.2,214.8 L379.8,215.5 L380.4,215.5 L381.0,215.8 L381.6,216.0 L382.2,216.2 L382.8,216.6 L383.4,217.2 L384.0,218.5 L384.6,219.0 L385.2,219.4 L385.8,219.8 L386.4,219.6 L387.0,219.6 L387.6,219.9 L388.2,220.4 L388.8,220.9 L389.4,221.4 L390.0,222.0 L390.6,222.5 L391.2,222.4 L391.8,222.6 L392.4,223.1 L393.0,224.1 L393.6,225.9 L394.2,226.7 L394.8,227.5 L395.4,227.8 L396.0,228.2 L396.6,228.6 L397.2,229.6 L397.8,230.4 L398.4,231.9 L399.0,232.5 L399.6,233.5 L400.2,234.4 L400.8,234.8 L401.4,235.4 L402.0,236.3 L402.6,237.9 L403.2,239.2 L403.8,240.4 L404.4,241.4 L405.0,242.5 L405.6,243.3 L406.2,244.4 L406.8,245.3 L407.4,246.5 L408.0,247.3 L408.6,248.4 L409.2,249.6 L409.8,250.7 L410.4,252.1 L411.0,253.3 L411.6,254.5 L412.2,255.3 L412.8,256.5 L413.4,257.7 L414.0,258.5 L414.6,259.2 L415.2,260.0 L415.8,261.0 L416.4,261.8 L417.0,262.5 L417.6,263.1 L418.2,263.8 L418.8,264.9 L419.4,265.7 L420.0,267.1 L420.6,267.9 L421.2,268.8 L421.8,269.8 L422.4,270.6 L423.0,271.6 L423.6,272.2 L424.2,272.7 L424.8,273.6 L425.4,274.1 L426.0,275.0 L426.6,275.9 L427.2,276.6 L427.8,277.3 L428.4,277.9 L429.0,278.8 L429.6,279.5 L430.2,280.0 L430.8,280.9 L431.4,281.3 L432.0,281.9 L432.6,282.3 L433.2,283.2 L433.8,284.1 L434.4,285.0 L435.0,285.8 L435.6,286.6 L436.2,287.6 L436.8,288.5 L437.4,289.2 L438.0,289.9 L438.6,290.4 L439.2,290.0 L439.8,290.5 L440.4,290.8 L441.0,291.7 L441.6,292.1 L442.2,292.6 L442.8,292.9 L443.4,293.4 L444.0,294.0 L444.6,294.5 L445.2,294.5 L445.8,294.6 L446.4,294.9 L447.0,294.6 L447.6,294.8 L448.2,295.3 L448.8,295.4 L449.4,296.2 L450.0,296.3 L450.6,296.1 L451.2,296.2 L451.8,295.9 L452.4,296.0 L453.0,296.4 L453.6,296.6 L454.2,296.7 L454.8,296.7 L455.4,296.5 L456.0,296.3 L456.6,296.4 L457.2,296.4 L457.8,296.4 L458.4,296.4 L459.0,296.3 L459.6,296.3 L460.2,296.2 L460.8,296.6 L461.4,296.3 L462.0,296.3 L462.6,296.2 L463.2,296.1 L463.8,296.4 L464.4,296.0 L465.0,295.9 L465.6,295.9 L466.2,295.6 L466.8,295.6 L467.4,295.0 L468.0,294.4 L468.6,293.8 L469.2,293.4 L469.8,293.8 L470.4,294.3 L471.0,294.2 L471.6,294.0 L472.2,293.4 L472.8,292.8 L473.4,291.9 L474.0,291.7 L474.6,291.1 L475.2,290.5 L475.8,289.8 L476.4,289.3 L477.0,288.8 L477.6,288.1 L478.2,287.4 L478.8,286.9 L479.4,286.3 L480.0,285.8 L480.6,285.2 L481.2,284.4 L481.8,283.7 L482.4,282.5 L483.0,281.7 L483.6,281.1 L484.2,280.4 L484.8,279.7 L485.4,279.1 L486.0,278.2 L486.6,277.5 L487.2,276.9 L487.8,276.2 L488.4,275.3 L489.0,274.9 L489.6,274.5 L490.2,274.0 L490.8,273.0 L491.4,272.3 L492.0,271.3 L492.6,270.5 L493.2,269.8 L493.8,269.2 L494.4,268.8 L495.0,268.2 L495.6,267.5 L496.2,266.9 L496.8,266.2 L497.4,265.6 L498.0,264.9 L498.6,264.2 L499.2,263.5 L499.8,262.5 L500.4,262.0 L501.0,261.6 L501.6,261.2 L502.2,260.6 L502.8,260.2 L503.4,259.3 L504.0,258.5 L504.0,272.2 L503.4,272.5 L502.8,273.1 L502.2,273.7 L501.6,274.5 L501.0,275.0 L500.4,276.0 L499.8,276.6 L499.2,277.2 L498.6,278.1 L498.0,278.8 L497.4,279.6 L496.8,280.4 L496.2,280.9 L495.6,281.2 L495.0,281.0 L494.4,281.4 L493.8,282.1 L493.2,282.9 L492.6,283.6 L492.0,284.7 L491.4,285.4 L490.8,286.1 L490.2,286.8 L489.6,287.9 L489.0,288.4 L488.4,289.5 L487.8,290.5 L487.2,291.4 L486.6,292.0 L486.0,292.7 L485.4,292.7 L484.8,293.2 L484.2,294.1 L483.6,295.1 L483.0,295.6 L482.4,296.3 L481.8,297.0 L481.2,297.4 L480.6,297.7 L480.0,298.2 L479.4,299.0 L478.8,299.6 L478.2,300.3 L477.6,300.9 L477.0,301.6 L476.4,301.9 L475.8,302.3 L475.2,302.7 L474.6,303.0 L474.0,303.5 L473.4,304.1 L472.8,304.8 L472.2,305.0 L471.6,305.4 L471.0,305.6 L470.4,305.6 L469.8,306.3 L469.2,306.2 L468.6,306.2 L468.0,306.4 L467.4,306.8 L466.8,306.8 L466.2,307.4 L465.6,307.8 L465.0,307.8 L464.4,307.6 L463.8,307.5 L463.2,307.3 L462.6,307.4 L462.0,307.4 L461.4,307.5 L460.8,307.8 L460.2,307.7 L459.6,308.1 L459.0,308.6 L458.4,308.8 L457.8,308.8 L457.2,308.3 L456.6,307.8 L456.0,307.7 L455.4,307.6 L454.8,307.7 L454.2,307.6 L453.6,307.6 L453.0,307.5 L452.4,307.6 L451.8,307.5 L451.2,307.3 L450.6,307.5 L450.0,307.2 L449.4,306.9 L448.8,306.3 L448.2,306.4 L447.6,306.4 L447.0,306.4 L446.4,306.5 L445.8,306.4 L445.2,306.3 L444.6,305.8 L444.0,305.5 L443.4,305.1 L442.8,304.9 L442.2,305.0 L441.6,305.0 L441.0,304.6 L440.4,304.5 L439.8,303.6 L439.2,303.3 L438.6,302.9 L438.0,302.1 L437.4,301.2 L436.8,300.6 L436.2,299.8 L435.6,299.6 L435.0,298.9 L434.4,298.7 L433.8,298.0 L433.2,297.3 L432.6,296.7 L432.0,296.5 L431.4,295.6 L430.8,294.9 L430.2,294.4 L429.6,293.7 L429.0,293.0 L428.4,292.1 L427.8,291.2 L427.2,289.9 L426.6,289.2 L426.0,288.5 L425.4,288.2 L424.8,287.5 L424.2,286.7 L423.6,286.0 L423.0,284.8 L422.4,283.9 L421.8,283.3 L421.2,282.4 L420.6,281.6 L420.0,281.1 L419.4,280.1 L418.8,279.0 L418.2,277.8 L417.6,276.3 L417.0,275.5 L416.4,274.8 L415.8,274.4 L415.2,273.6 L414.6,272.9 L414.0,271.9 L413.4,270.8 L412.8,269.8 L412.2,268.9 L411.6,267.6 L411.0,265.9 L410.4,264.9 L409.8,263.9 L409.2,263.0 L408.6,262.6 L408.0,261.7 L407.4,260.7 L406.8,259.7 L406.2,258.9 L405.6,257.4 L405.0,256.5 L404.4,255.7 L403.8,254.5 L403.2,253.7 L402.6,252.8 L402.0,251.6 L401.4,250.7 L400.8,249.7 L400.2,248.7 L399.6,247.4 L399.0,246.3 L398.4,245.1 L397.8,244.4 L397.2,243.4 L396.6,242.9 L396.0,242.2 L395.4,241.5 L394.8,240.7 L394.2,239.3 L393.6,238.2 L393.0,237.5 L392.4,236.9 L391.8,237.2 L391.2,236.5 L390.6,236.0 L390.0,235.1 L389.4,234.3 L388.8,233.3 L388.2,232.5 L387.6,232.4 L387.0,231.6 L386.4,231.2 L385.8,230.6 L385.2,230.2 L384.6,229.8 L384.0,229.4 L383.4,229.1 L382.8,228.8 L382.2,228.9 L381.6,228.3 L381.0,228.2 L380.4,228.0 L379.8,227.8 L379.2,227.4 L378.6,227.2 L378.0,226.8 L377.4,226.3 L376.8,225.9 L376.2,225.8 L375.6,225.7 L375.0,225.7 L374.4,225.3 L373.8,225.3 L373.2,224.9 L372.6,224.7 L372.0,224.6 L371.4,224.4 L370.8,224.3 L370.2,224.2 L369.6,224.2 L369.0,224.2 L368.4,224.2 L367.8,223.8 L367.2,223.8 L366.6,224.1 L366.0,224.2 L365.4,224.6 L364.8,224.7 L364.2,225.2 L363.6,225.3 L363.0,225.5 L362.4,225.6 L361.8,225.8 L361.2,226.1 L360.6,226.6 L360.0,226.9 L359.4,227.3 L358.8,227.2 L358.2,227.4 L357.6,227.0 L357.0,227.2 L356.4,227.9 L355.8,228.3 L355.2,228.9 L354.6,229.2 L354.0,229.2 L353.4,229.1 L352.8,229.3 L352.2,229.6 L351.6,229.9 L351.0,230.4 L350.4,230.4 L349.8,230.6 L349.2,231.8 L348.6,232.9 L348.0,233.7 L347.4,234.0 L346.8,234.5 L346.2,234.6 L345.6,235.1 L345.0,235.8 L344.4,236.2 L343.8,236.9 L343.2,237.7 L342.6,238.3 L342.0,238.8 L341.4,239.5 L340.8,240.1 L340.2,240.7 L339.6,241.2 L339.0,241.8 L338.4,242.3 L337.8,242.6 L337.2,243.3 L336.6,244.1 L336.0,244.7 L335.4,245.2 L334.8,245.9 L334.2,246.6 L333.6,247.5 L333.0,248.1 L332.4,249.2 L331.8,250.5 L331.2,251.7 L330.6,253.1 L330.0,253.8 L329.4,254.2 L328.8,254.6 L328.2,255.1 L327.6,255.6 L327.0,256.2 L326.4,256.9 L325.8,257.2 L325.2,257.3 L324.6,257.8 L324.0,258.1 L323.4,258.4 L322.8,258.5 L322.2,258.6 L321.6,258.7 L321.0,259.0 L320.4,259.5 L319.8,260.2 L319.2,260.8 L318.6,261.3 L318.0,261.8 L317.4,262.1 L316.8,262.6 L316.2,262.9 L315.6,263.5 L315.0,263.8 L314.4,264.2 L313.8,264.6 L313.2,265.6 L312.6,266.2 L312.0,266.8 L311.4,267.4 L310.8,267.4 L310.2,268.0 L309.6,268.4 L309.0,269.2 L308.4,270.4 L307.8,271.3Z" fill="#e8251f"/>
<path d="M309.2,274.8 L310.2,273.8 L311.2,272.8 L312.2,271.8 L313.2,270.8 L314.2,269.8 L315.2,268.8 L316.2,267.8 L317.2,266.8 L318.2,265.8 L319.2,264.8 L320.2,263.8 L321.2,262.9 L322.2,261.9 L323.2,261.0 L324.2,260.1 L325.2,259.1 L326.2,258.2 L327.2,257.3 L328.2,256.4 L329.2,255.5 L330.2,254.6 L331.2,253.7 L332.2,252.8 L333.2,251.9 L334.2,251.0 L335.2,250.1 L336.2,249.2 L337.2,248.2 L338.2,247.3 L339.2,246.4 L340.2,245.5 L341.2,244.6 L342.2,243.7 L343.2,242.8 L344.2,241.9 L345.2,241.0 L346.2,240.0 L347.2,239.1 L348.2,238.2 L349.2,237.4 L350.2,236.5 L351.2,235.6 L352.2,234.8 L353.2,233.9 L354.2,233.1 L355.2,232.3 L356.2,231.6 L357.2,230.8 L358.2,230.1 L359.2,229.5 L360.2,228.9 L361.2,228.3 L362.2,227.7 L363.2,227.3 L364.2,226.8 L365.2,226.4 L366.2,226.1 L367.2,225.8 L368.2,225.6 L369.2,225.5 L370.2,225.4 L371.2,225.3 L372.2,225.4 L373.2,225.5 L374.2,225.6 L375.2,225.8 L376.2,226.1 L377.2,226.4 L378.2,226.8 L379.2,227.3 L380.2,227.8 L381.2,228.4 L382.2,229.0 L383.2,229.7 L384.2,230.4 L385.2,231.2 L386.2,232.0 L387.2,232.9 L388.2,233.8 L389.2,234.7 L390.2,235.7 L391.2,236.7 L392.2,237.7 L393.2,238.8 L394.2,239.9 L395.2,241.0 L396.2,242.2 L397.2,243.3 L398.2,244.5 L399.2,245.7 L400.2,247.0 L401.2,248.2 L402.2,249.4 L403.2,250.7 L404.2,252.0 L405.2,253.3 L406.2,254.5 L407.2,255.8 L408.2,257.1 L409.2,258.5 L410.2,259.8 L411.2,261.1 L412.2,262.4 L413.2,263.7 L414.2,265.0 L415.2,266.4 L416.2,267.7 L417.2,269.0 L418.2,270.3 L419.2,271.6 L420.2,272.9 L421.2,274.2 L422.2,275.5 L423.2,276.8 L424.2,278.0 L425.2,279.3 L426.2,280.5 L427.2,281.7 L428.2,282.9 L429.2,284.1 L430.2,285.2 L431.2,286.3 L432.2,287.4 L433.2,288.5 L434.2,289.5 L435.2,290.5 L436.2,291.5 L437.2,292.4 L438.2,293.3 L439.2,294.1 L440.2,295.0 L441.2,295.7 L442.2,296.5 L443.2,297.2 L444.2,297.8 L445.2,298.4 L446.2,299.0 L447.2,299.5 L448.2,300.0 L449.2,300.4 L450.2,300.8 L451.2,301.1 L452.2,301.4 L453.2,301.7 L454.2,301.9 L455.2,302.1 L456.2,302.2 L457.2,302.3 L458.2,302.4 L459.2,302.4 L460.2,302.4 L461.2,302.3 L462.2,302.2 L463.2,302.1 L464.2,301.9 L465.2,301.7 L466.2,301.5 L467.2,301.2 L468.2,300.9 L469.2,300.6 L470.2,300.3 L471.2,299.9 L472.2,299.5 L473.2,299.0 L474.2,298.6 L475.2,298.1 L476.2,297.5 L477.2,297.0 L478.2,296.4 L479.2,295.8 L480.2,295.1 L481.2,294.4 L482.2,293.7 L483.2,293.0 L484.2,292.3 L485.2,291.5 L486.2,290.7 L487.2,289.9 L488.2,289.0 L489.2,288.1 L490.2,287.2 L491.2,286.3 L492.2,285.4 L493.2,284.5 L494.2,283.5 L495.2,282.5 L496.2,281.5 L497.2,280.5 L498.2,279.5 L499.2,278.5 L500.2,277.5 L501.2,276.5 L502.2,275.5 L502.8,274.8" fill="none" stroke="#0b70b5" stroke-width="3.7" stroke-linecap="round" stroke-linejoin="round"/>
<path d="M309.2,165.5 L310.2,164.2 L311.2,162.9 L312.2,161.7 L313.2,160.4 L314.2,159.2 L315.2,157.9 L316.2,156.7 L317.2,155.5 L318.2,154.3 L319.2,153.1 L320.2,152.0 L321.2,150.9 L322.2,149.8 L323.2,148.7 L324.2,147.7 L325.2,146.7 L326.2,145.7 L327.2,144.8 L328.2,143.9 L329.2,143.0 L330.2,142.2 L331.2,141.4 L332.2,140.6 L333.2,139.9 L334.2,139.2 L335.2,138.5 L336.2,137.9 L337.2,137.3 L338.2,136.8 L339.2,136.3 L340.2,135.8 L341.2,135.3 L342.2,134.9 L343.2,134.5 L344.2,134.1 L345.2,133.8 L346.2,133.5 L347.2,133.2 L348.2,133.0 L349.2,132.7 L350.2,132.5 L351.2,132.4 L352.2,132.2 L353.2,132.1 L354.2,132.0 L355.2,132.0 L356.2,131.9 L357.2,131.9 L358.2,131.9 L359.2,132.0 L360.2,132.1 L361.2,132.2 L362.2,132.3 L363.2,132.5 L364.2,132.7 L365.2,132.9 L366.2,133.2 L367.2,133.5 L368.2,133.9 L369.2,134.2 L370.2,134.7 L371.2,135.1 L372.2,135.6 L373.2,136.1 L374.2,136.7 L375.2,137.2 L376.2,137.9 L377.2,138.5 L378.2,139.2 L379.2,139.9 L380.2,140.7 L381.2,141.4 L382.2,142.3 L383.2,143.1 L384.2,144.0 L385.2,144.8 L386.2,145.8 L387.2,146.7 L388.2,147.6 L389.2,148.6 L390.2,149.6 L391.2,150.6 L392.2,151.7 L393.2,152.7 L394.2,153.8 L395.2,154.8 L396.2,155.9 L397.2,157.0 L398.2,158.1 L399.2,159.2 L400.2,160.3 L401.2,161.4 L402.2,162.6 L403.2,163.7 L404.2,164.8 L405.2,165.9 L406.2,167.1 L407.2,168.2 L408.2,169.3 L409.2,170.4 L410.2,171.6 L411.2,172.7 L412.2,173.8 L413.2,174.9 L414.2,176.0 L415.2,177.1 L416.2,178.2 L417.2,179.3 L418.2,180.4 L419.2,181.4 L420.2,182.5 L421.2,183.5 L422.2,184.5 L423.2,185.5 L424.2,186.5 L425.2,187.5 L426.2,188.4 L427.2,189.3 L428.2,190.2 L429.2,191.1 L430.2,191.9 L431.2,192.7 L432.2,193.5 L433.2,194.3 L434.2,195.0 L435.2,195.6 L436.2,196.3 L437.2,196.9 L438.2,197.5 L439.2,198.0 L440.2,198.5 L441.2,198.9 L442.2,199.3 L443.2,199.7 L444.2,200.0 L445.2,200.3 L446.2,200.5 L447.2,200.7 L448.2,200.9 L449.2,201.0 L450.2,201.1 L451.2,201.1 L452.2,201.1 L453.2,201.1 L454.2,201.0 L455.2,200.9 L456.2,200.8 L457.2,200.6 L458.2,200.4 L459.2,200.2 L460.2,200.0 L461.2,199.7 L462.2,199.4 L463.2,199.0 L464.2,198.7 L465.2,198.3 L466.2,197.9 L467.2,197.4 L468.2,197.0 L469.2,196.5 L470.2,196.0 L471.2,195.5 L472.2,194.9 L473.2,194.3 L474.2,193.7 L475.2,193.1 L476.2,192.4 L477.2,191.8 L478.2,191.1 L479.2,190.3 L480.2,189.6 L481.2,188.8 L482.2,188.0 L483.2,187.1 L484.2,186.2 L485.2,185.3 L486.2,184.4 L487.2,183.5 L488.2,182.5 L489.2,181.5 L490.2,180.4 L491.2,179.3 L492.2,178.3 L493.2,177.1 L494.2,176.0 L495.2,174.8 L496.2,173.6 L497.2,172.4 L498.2,171.2 L499.2,170.0 L500.2,168.7 L501.2,167.5 L502.2,166.2 L502.8,165.5" fill="none" stroke="#12a076" stroke-width="3.7" stroke-linecap="round" stroke-linejoin="round"/>
<path d="M307.8,220.0 L308.4,220.2 L309.0,220.4 L309.6,221.0 L310.2,221.4 L310.8,222.5 L311.4,223.2 L312.0,224.0 L312.6,224.6 L313.2,225.3 L313.8,225.8 L314.4,226.5 L315.0,227.5 L315.6,228.8 L316.2,230.5 L316.8,231.6 L317.4,232.5 L318.0,233.6 L318.6,234.6 L319.2,235.6 L319.8,236.7 L320.4,237.7 L321.0,238.8 L321.6,240.0 L322.2,241.1 L322.8,242.6 L323.4,243.9 L324.0,244.7 L324.6,246.1 L325.2,247.4 L325.8,248.5 L326.4,249.7 L327.0,250.5 L327.6,251.9 L328.2,253.5 L328.8,254.8 L329.4,255.7 L330.0,256.6 L330.6,257.2 L331.2,258.0 L331.8,258.9 L332.4,260.0 L333.0,260.9 L333.6,261.8 L334.2,263.0 L334.8,264.1 L335.4,265.6 L336.0,266.6 L336.6,267.8 L337.2,268.8 L337.8,269.4 L338.4,270.4 L339.0,271.3 L339.6,272.1 L340.2,273.2 L340.8,274.0 L341.4,274.6 L342.0,275.6 L342.6,276.7 L343.2,277.4 L343.8,278.0 L344.4,278.7 L345.0,278.8 L345.6,279.5 L346.2,280.2 L346.8,280.9 L347.4,281.4 L348.0,282.4 L348.6,283.1 L349.2,284.0 L349.8,285.3 L350.4,286.2 L351.0,286.8 L351.6,287.1 L352.2,287.0 L352.8,287.3 L353.4,287.6 L354.0,288.7 L354.6,289.3 L355.2,290.2 L355.8,290.5 L356.4,291.2 L357.0,291.8 L357.6,292.6 L358.2,293.1 L358.8,293.6 L359.4,294.1 L360.0,294.7 L360.6,295.1 L361.2,295.7 L361.8,296.4 L362.4,297.1 L363.0,297.5 L363.6,297.5 L364.2,297.5 L364.8,297.6 L365.4,298.1 L366.0,298.4 L366.6,299.1 L367.2,299.8 L367.8,299.9 L368.4,300.2 L369.0,300.5 L369.6,300.7 L370.2,301.0 L370.8,301.2 L371.4,301.3 L372.0,301.6 L372.6,301.6 L373.2,301.7 L373.8,301.7 L374.4,301.8 L375.0,301.9 L375.6,302.0 L376.2,301.9 L376.8,301.6 L377.4,301.7 L378.0,301.8 L378.6,302.4 L379.2,302.6 L379.8,302.5 L380.4,302.5 L381.0,302.5 L381.6,302.4 L382.2,302.5 L382.8,302.3 L383.4,301.4 L384.0,301.2 L384.6,300.8 L385.2,300.5 L385.8,300.8 L386.4,300.7 L387.0,300.2 L387.6,299.5 L388.2,298.8 L388.8,297.7 L389.4,296.9 L390.0,296.0 L390.6,295.0 L391.2,294.2 L391.8,293.6 L392.4,293.1 L393.0,292.3 L393.6,291.4 L394.2,291.0 L394.8,291.1 L395.4,290.9 L396.0,290.9 L396.6,290.2 L397.2,289.6 L397.8,288.6 L398.4,288.0 L399.0,287.2 L399.6,286.7 L400.2,285.6 L400.8,285.0 L401.4,284.3 L402.0,283.8 L402.6,283.0 L403.2,282.5 L403.8,282.0 L404.4,281.2 L405.0,280.6 L405.6,279.8 L406.2,279.2 L406.8,278.8 L407.4,278.7 L408.0,278.1 L408.6,277.5 L409.2,276.9 L409.8,276.2 L410.4,275.5 L411.0,275.0 L411.6,274.4 L412.2,273.9 L412.8,273.4 L413.4,272.9 L414.0,272.0 L414.6,271.7 L415.2,270.9 L415.8,270.3 L416.4,269.6 L417.0,268.7 L417.6,267.8 L418.2,267.3 L418.8,266.8 L419.4,266.1 L420.0,265.4 L420.6,264.6 L421.2,264.2 L421.8,264.0 L422.4,263.5 L423.0,262.7 L423.6,261.7 L424.2,260.4 L424.8,259.8 L425.4,258.8 L426.0,258.4 L426.6,258.1 L427.2,257.8 L427.8,256.7 L428.4,255.9 L429.0,255.3 L429.6,254.5 L430.2,253.7 L430.8,252.5 L431.4,251.0 L432.0,249.7 L432.6,249.1 L433.2,248.2 L433.8,247.9 L434.4,247.0 L435.0,246.3 L435.6,245.3 L436.2,244.3 L436.8,243.7 L437.4,242.8 L438.0,242.0 L438.6,241.4 L439.2,240.6 L439.8,239.8 L440.4,239.0 L441.0,238.2 L441.6,237.2 L442.2,236.5 L442.8,235.9 L443.4,235.2 L444.0,234.6 L444.6,233.7 L445.2,233.3 L445.8,232.7 L446.4,231.9 L447.0,231.4 L447.6,230.6 L448.2,230.5 L448.8,229.8 L449.4,229.2 L450.0,228.5 L450.6,227.8 L451.2,226.8 L451.8,226.2 L452.4,225.6 L453.0,225.3 L453.6,224.5 L454.2,223.9 L454.8,223.4 L455.4,222.3 L456.0,221.4 L456.6,221.0 L457.2,220.7 L457.8,220.8 L458.4,220.2 L459.0,219.9 L459.6,219.3 L460.2,218.6 L460.8,218.1 L461.4,217.5 L462.0,217.0 L462.6,216.6 L463.2,216.2 L463.8,215.7 L464.4,215.2 L465.0,215.0 L465.6,214.6 L466.2,214.3 L466.8,213.9 L467.4,214.0 L468.0,213.6 L468.6,213.4 L469.2,213.3 L469.8,212.9 L470.4,212.7 L471.0,212.6 L471.6,212.3 L472.2,212.0 L472.8,211.9 L473.4,211.7 L474.0,211.4 L474.6,211.1 L475.2,211.0 L475.8,210.8 L476.4,210.9 L477.0,211.0 L477.6,211.2 L478.2,211.1 L478.8,210.7 L479.4,210.2 L480.0,209.8 L480.6,209.8 L481.2,209.9 L481.8,210.2 L482.4,210.2 L483.0,210.3 L483.6,210.3 L484.2,210.4 L484.8,211.0 L485.4,211.1 L486.0,211.0 L486.6,210.8 L487.2,210.8 L487.8,211.1 L488.4,211.1 L489.0,211.6 L489.6,211.8 L490.2,212.0 L490.8,212.1 L491.4,212.3 L492.0,212.4 L492.6,212.8 L493.2,213.0 L493.8,213.4 L494.4,213.8 L495.0,214.0 L495.6,214.5 L496.2,214.5 L496.8,214.9 L497.4,215.1 L498.0,215.3 L498.6,215.4 L499.2,215.4 L499.8,215.9 L500.4,216.8 L501.0,217.6 L501.6,218.2 L502.2,218.7 L502.8,219.2 L503.4,219.8 L504.0,220.4 L504.0,231.6 L503.4,231.2 L502.8,231.0 L502.2,230.6 L501.6,230.3 L501.0,229.8 L500.4,228.9 L499.8,228.5 L499.2,228.2 L498.6,227.8 L498.0,227.6 L497.4,227.4 L496.8,226.9 L496.2,226.8 L495.6,226.0 L495.0,225.6 L494.4,225.3 L493.8,225.4 L493.2,225.5 L492.6,225.3 L492.0,225.1 L491.4,224.8 L490.8,224.7 L490.2,224.2 L489.6,224.0 L489.0,223.6 L488.4,223.3 L487.8,223.0 L487.2,222.7 L486.6,222.5 L486.0,222.5 L485.4,222.6 L484.8,222.5 L484.2,222.2 L483.6,222.3 L483.0,222.2 L482.4,222.2 L481.8,222.3 L481.2,222.7 L480.6,222.6 L480.0,222.5 L479.4,222.3 L478.8,222.5 L478.2,222.5 L477.6,222.3 L477.0,222.6 L476.4,222.9 L475.8,222.6 L475.2,222.7 L474.6,222.5 L474.0,221.9 L473.4,221.8 L472.8,221.9 L472.2,222.5 L471.6,223.4 L471.0,224.0 L470.4,224.3 L469.8,224.8 L469.2,225.0 L468.6,225.6 L468.0,226.0 L467.4,225.8 L466.8,226.0 L466.2,225.9 L465.6,226.5 L465.0,226.7 L464.4,226.7 L463.8,227.0 L463.2,227.4 L462.6,228.1 L462.0,229.3 L461.4,230.0 L460.8,230.4 L460.2,231.1 L459.6,231.3 L459.0,231.7 L458.4,232.0 L457.8,232.7 L457.2,233.3 L456.6,233.9 L456.0,234.5 L455.4,235.2 L454.8,235.9 L454.2,236.7 L453.6,237.5 L453.0,238.1 L452.4,238.4 L451.8,239.2 L451.2,239.9 L450.6,240.2 L450.0,240.4 L449.4,240.7 L448.8,241.3 L448.2,242.1 L447.6,243.0 L447.0,243.6 L446.4,244.4 L445.8,245.3 L445.2,246.5 L444.6,247.3 L444.0,248.4 L443.4,249.3 L442.8,250.4 L442.2,251.6 L441.6,252.7 L441.0,253.7 L440.4,254.3 L439.8,255.3 L439.2,255.8 L438.6,256.6 L438.0,257.4 L437.4,258.1 L436.8,258.8 L436.2,259.5 L435.6,260.4 L435.0,261.3 L434.4,262.0 L433.8,262.7 L433.2,263.6 L432.6,264.2 L432.0,264.8 L431.4,265.7 L430.8,266.2 L430.2,266.9 L429.6,267.5 L429.0,268.1 L428.4,268.9 L427.8,269.5 L427.2,270.4 L426.6,270.9 L426.0,271.7 L425.4,272.3 L424.8,273.1 L424.2,273.5 L423.6,273.9 L423.0,274.3 L422.4,275.1 L421.8,276.1 L421.2,277.1 L420.6,277.9 L420.0,278.4 L419.4,279.0 L418.8,279.3 L418.2,279.8 L417.6,280.3 L417.0,281.3 L416.4,282.3 L415.8,283.2 L415.2,284.0 L414.6,284.6 L414.0,285.3 L413.4,286.1 L412.8,286.6 L412.2,287.4 L411.6,287.8 L411.0,288.3 L410.4,289.0 L409.8,289.7 L409.2,290.6 L408.6,291.4 L408.0,292.0 L407.4,292.9 L406.8,293.7 L406.2,294.5 L405.6,294.9 L405.0,295.8 L404.4,296.7 L403.8,297.2 L403.2,297.9 L402.6,298.5 L402.0,299.0 L401.4,299.6 L400.8,300.4 L400.2,300.7 L399.6,301.2 L399.0,301.6 L398.4,302.0 L397.8,302.7 L397.2,303.0 L396.6,303.6 L396.0,303.8 L395.4,304.7 L394.8,305.5 L394.2,306.0 L393.6,306.3 L393.0,307.1 L392.4,307.5 L391.8,307.6 L391.2,308.1 L390.6,308.5 L390.0,308.5 L389.4,309.0 L388.8,309.0 L388.2,309.4 L387.6,309.9 L387.0,310.4 L386.4,310.7 L385.8,310.8 L385.2,311.3 L384.6,311.4 L384.0,311.7 L383.4,311.9 L382.8,312.0 L382.2,311.9 L381.6,312.0 L381.0,312.2 L380.4,312.5 L379.8,312.6 L379.2,312.5 L378.6,312.5 L378.0,312.8 L377.4,312.9 L376.8,312.9 L376.2,312.9 L375.6,313.2 L375.0,313.1 L374.4,313.1 L373.8,313.1 L373.2,312.8 L372.6,312.7 L372.0,312.5 L371.4,312.7 L370.8,312.3 L370.2,312.1 L369.6,311.7 L369.0,311.1 L368.4,310.8 L367.8,310.1 L367.2,309.8 L366.6,309.7 L366.0,309.8 L365.4,309.6 L364.8,309.2 L364.2,308.7 L363.6,308.1 L363.0,307.3 L362.4,306.8 L361.8,306.5 L361.2,306.0 L360.6,305.7 L360.0,305.2 L359.4,304.6 L358.8,304.2 L358.2,304.1 L357.6,303.3 L357.0,302.8 L356.4,302.7 L355.8,302.2 L355.2,301.7 L354.6,301.5 L354.0,301.1 L353.4,300.9 L352.8,300.3 L352.2,299.5 L351.6,298.1 L351.0,297.4 L350.4,296.7 L349.8,296.3 L349.2,295.9 L348.6,295.5 L348.0,295.0 L347.4,294.4 L346.8,294.0 L346.2,293.3 L345.6,292.8 L345.0,292.0 L344.4,291.0 L343.8,290.2 L343.2,289.7 L342.6,289.1 L342.0,288.1 L341.4,287.5 L340.8,286.9 L340.2,286.0 L339.6,285.3 L339.0,284.5 L338.4,283.6 L337.8,282.5 L337.2,281.6 L336.6,280.5 L336.0,279.2 L335.4,277.9 L334.8,276.6 L334.2,275.4 L333.6,274.1 L333.0,272.4 L332.4,270.8 L331.8,269.6 L331.2,268.2 L330.6,266.7 L330.0,265.8 L329.4,264.4 L328.8,263.1 L328.2,261.9 L327.6,260.6 L327.0,259.4 L326.4,258.3 L325.8,257.2 L325.2,256.1 L324.6,255.1 L324.0,254.4 L323.4,253.8 L322.8,252.8 L322.2,252.1 L321.6,251.3 L321.0,250.5 L320.4,249.5 L319.8,249.0 L319.2,248.1 L318.6,247.1 L318.0,246.3 L317.4,245.5 L316.8,244.8 L316.2,243.8 L315.6,242.5 L315.0,241.5 L314.4,240.8 L313.8,239.9 L313.2,239.0 L312.6,238.1 L312.0,237.4 L311.4,236.7 L310.8,236.2 L310.2,235.7 L309.6,234.9 L309.0,234.0 L308.4,233.2 L307.8,232.6Z" fill="#000000"/>
<path d="M309.2,233.6 L310.2,234.6 L311.2,235.7 L312.2,236.8 L313.2,238.0 L314.2,239.2 L315.2,240.5 L316.2,241.8 L317.2,243.1 L318.2,244.4 L319.2,245.8 L320.2,247.2 L321.2,248.7 L322.2,250.1 L323.2,251.6 L324.2,253.1 L325.2,254.7 L326.2,256.2 L327.2,257.8 L328.2,259.3 L329.2,260.9 L330.2,262.5 L331.2,264.1 L332.2,265.7 L333.2,267.2 L334.2,268.8 L335.2,270.4 L336.2,271.9 L337.2,273.5 L338.2,275.0 L339.2,276.5 L340.2,278.0 L341.2,279.5 L342.2,280.9 L343.2,282.3 L344.2,283.7 L345.2,285.0 L346.2,286.3 L347.2,287.6 L348.2,288.8 L349.2,290.0 L350.2,291.2 L351.2,292.3 L352.2,293.4 L353.2,294.4 L354.2,295.4 L355.2,296.4 L356.2,297.3 L357.2,298.2 L358.2,299.0 L359.2,299.8 L360.2,300.5 L361.2,301.2 L362.2,301.9 L363.2,302.5 L364.2,303.1 L365.2,303.7 L366.2,304.2 L367.2,304.7 L368.2,305.1 L369.2,305.5 L370.2,305.9 L371.2,306.2 L372.2,306.5 L373.2,306.7 L374.2,306.9 L375.2,307.1 L376.2,307.3 L377.2,307.4 L378.2,307.4 L379.2,307.4 L380.2,307.4 L381.2,307.4 L382.2,307.3 L383.2,307.2 L384.2,307.0 L385.2,306.8 L386.2,306.5 L387.2,306.2 L388.2,305.9 L389.2,305.5 L390.2,305.1 L391.2,304.6 L392.2,304.1 L393.2,303.5 L394.2,303.0 L395.2,302.3 L396.2,301.6 L397.2,300.9 L398.2,300.2 L399.2,299.4 L400.2,298.5 L401.2,297.7 L402.2,296.8 L403.2,295.8 L404.2,294.8 L405.2,293.9 L406.2,292.8 L407.2,291.8 L408.2,290.7 L409.2,289.6 L410.2,288.5 L411.2,287.4 L412.2,286.3 L413.2,285.1 L414.2,284.0 L415.2,282.8 L416.2,281.6 L417.2,280.5 L418.2,279.3 L419.2,278.1 L420.2,276.9 L421.2,275.8 L422.2,274.6 L423.2,273.5 L424.2,272.3 L425.2,271.2 L426.2,270.0 L427.2,268.9 L428.2,267.8 L429.2,266.6 L430.2,265.5 L431.2,264.4 L432.2,263.3 L433.2,262.3 L434.2,261.2 L435.2,260.1 L436.2,259.0 L437.2,258.0 L438.2,256.9 L439.2,255.8 L440.2,254.8 L441.2,253.7 L442.2,252.7 L443.2,251.6 L444.2,250.6 L445.2,249.5 L446.2,248.5 L447.2,247.4 L448.2,246.4 L449.2,245.3 L450.2,244.3 L451.2,243.3 L452.2,242.2 L453.2,241.2 L454.2,240.2 L455.2,239.2 L456.2,238.2 L457.2,237.2 L458.2,236.3 L459.2,235.3 L460.2,234.4 L461.2,233.5 L462.2,232.6 L463.2,231.7 L464.2,230.9 L465.2,230.1 L466.2,229.3 L467.2,228.6 L468.2,227.9 L469.2,227.2 L470.2,226.6 L471.2,226.0 L472.2,225.5 L473.2,225.0 L474.2,224.5 L475.2,224.1 L476.2,223.8 L477.2,223.5 L478.2,223.2 L479.2,223.0 L480.2,222.9 L481.2,222.8 L482.2,222.8 L483.2,222.8 L484.2,222.8 L485.2,223.0 L486.2,223.1 L487.2,223.4 L488.2,223.6 L489.2,224.0 L490.2,224.4 L491.2,224.8 L492.2,225.3 L493.2,225.8 L494.2,226.4 L495.2,227.1 L496.2,227.8 L497.2,228.5 L498.2,229.3 L499.2,230.2 L500.2,231.1 L501.2,232.0 L502.2,233.0 L502.8,233.6" fill="none" stroke="#8a40ae" stroke-width="3.7" stroke-linecap="round" stroke-linejoin="round"/>
<path d="M309.2,167.7 L310.2,168.7 L311.2,169.8 L312.2,170.8 L313.2,171.9 L314.2,172.9 L315.2,174.0 L316.2,175.0 L317.2,176.0 L318.2,177.0 L319.2,177.9 L320.2,178.9 L321.2,179.8 L322.2,180.7 L323.2,181.6 L324.2,182.4 L325.2,183.3 L326.2,184.1 L327.2,184.9 L328.2,185.6 L329.2,186.3 L330.2,187.0 L331.2,187.7 L332.2,188.3 L333.2,189.0 L334.2,189.5 L335.2,190.1 L336.2,190.6 L337.2,191.1 L338.2,191.6 L339.2,192.1 L340.2,192.5 L341.2,192.9 L342.2,193.3 L343.2,193.6 L344.2,194.0 L345.2,194.3 L346.2,194.5 L347.2,194.8 L348.2,195.0 L349.2,195.3 L350.2,195.4 L351.2,195.6 L352.2,195.8 L353.2,195.9 L354.2,196.0 L355.2,196.0 L356.2,196.1 L357.2,196.1 L358.2,196.1 L359.2,196.0 L360.2,195.9 L361.2,195.8 L362.2,195.7 L363.2,195.5 L364.2,195.3 L365.2,195.1 L366.2,194.8 L367.2,194.5 L368.2,194.1 L369.2,193.8 L370.2,193.3 L371.2,192.9 L372.2,192.4 L373.2,191.9 L374.2,191.4 L375.2,190.8 L376.2,190.2 L377.2,189.5 L378.2,188.8 L379.2,188.1 L380.2,187.4 L381.2,186.7 L382.2,185.9 L383.2,185.1 L384.2,184.2 L385.2,183.4 L386.2,182.5 L387.2,181.6 L388.2,180.7 L389.2,179.8 L390.2,178.9 L391.2,178.0 L392.2,177.0 L393.2,176.1 L394.2,175.1 L395.2,174.1 L396.2,173.2 L397.2,172.2 L398.2,171.2 L399.2,170.2 L400.2,169.3 L401.2,168.3 L402.2,167.3 L403.2,166.3 L404.2,165.4 L405.2,164.4 L406.2,163.4 L407.2,162.5 L408.2,161.5 L409.2,160.6 L410.2,159.6 L411.2,158.7 L412.2,157.8 L413.2,156.9 L414.2,155.9 L415.2,155.0 L416.2,154.1 L417.2,153.2 L418.2,152.4 L419.2,151.5 L420.2,150.6 L421.2,149.8 L422.2,149.0 L423.2,148.2 L424.2,147.4 L425.2,146.6 L426.2,145.8 L427.2,145.1 L428.2,144.4 L429.2,143.7 L430.2,143.0 L431.2,142.4 L432.2,141.7 L433.2,141.1 L434.2,140.6 L435.2,140.0 L436.2,139.5 L437.2,139.1 L438.2,138.6 L439.2,138.2 L440.2,137.9 L441.2,137.5 L442.2,137.2 L443.2,137.0 L444.2,136.7 L445.2,136.5 L446.2,136.4 L447.2,136.2 L448.2,136.1 L449.2,136.1 L450.2,136.1 L451.2,136.1 L452.2,136.1 L453.2,136.2 L454.2,136.3 L455.2,136.4 L456.2,136.6 L457.2,136.7 L458.2,136.9 L459.2,137.2 L460.2,137.4 L461.2,137.7 L462.2,138.0 L463.2,138.4 L464.2,138.7 L465.2,139.1 L466.2,139.5 L467.2,139.9 L468.2,140.3 L469.2,140.7 L470.2,141.2 L471.2,141.7 L472.2,142.2 L473.2,142.7 L474.2,143.3 L475.2,143.9 L476.2,144.4 L477.2,145.0 L478.2,145.7 L479.2,146.3 L480.2,147.0 L481.2,147.7 L482.2,148.4 L483.2,149.2 L484.2,149.9 L485.2,150.7 L486.2,151.5 L487.2,152.3 L488.2,153.2 L489.2,154.1 L490.2,155.0 L491.2,155.9 L492.2,156.8 L493.2,157.8 L494.2,158.8 L495.2,159.8 L496.2,160.8 L497.2,161.8 L498.2,162.8 L499.2,163.9 L500.2,164.9 L501.2,166.0 L502.2,167.0 L502.8,167.7" fill="none" stroke="#e8a01e" stroke-width="3.7" stroke-linecap="round" stroke-linejoin="round"/>
<line x1="357.5" y1="107.9" x2="357.5" y2="345.7" class="g"/>
<line x1="405.5" y1="107.9" x2="405.5" y2="345.7" class="g"/>
<line x1="454.5" y1="107.9" x2="454.5" y2="345.7" class="g"/>
<line x1="310.2" y1="166.5" x2="502.8" y2="166.5" class="g"/>
<line x1="310.2" y1="226.5" x2="502.8" y2="226.5" class="g"/>
<line x1="310.2" y1="285.5" x2="502.8" y2="285.5" class="g"/>
<line x1="357.5" y1="345.7" x2="357.5" y2="339.8" class="t"/>
<line x1="357.5" y1="106.9" x2="357.5" y2="112.80000000000001" class="t"/>
<line x1="405.5" y1="345.7" x2="405.5" y2="339.8" class="t"/>
<line x1="405.5" y1="106.9" x2="405.5" y2="112.80000000000001" class="t"/>
<line x1="454.5" y1="345.7" x2="454.5" y2="339.8" class="t"/>
<line x1="454.5" y1="106.9" x2="454.5" y2="112.80000000000001" class="t"/>
<line x1="309.2" y1="166.5" x2="315.09999999999997" y2="166.5" class="t"/>
<line x1="502.8" y1="166.5" x2="496.90000000000003" y2="166.5" class="t"/>
<line x1="309.2" y1="226.5" x2="315.09999999999997" y2="226.5" class="t"/>
<line x1="502.8" y1="226.5" x2="496.90000000000003" y2="226.5" class="t"/>
<line x1="309.2" y1="285.5" x2="315.09999999999997" y2="285.5" class="t"/>
<line x1="502.8" y1="285.5" x2="496.90000000000003" y2="285.5" class="t"/>
<rect x="309.2" y="106.9" width="193.6" height="238.8" fill="none" stroke="#000" stroke-width="1.9"/>
<line x1="122" y1="56.8" x2="172.7" y2="56.8" stroke="#e8251f" stroke-width="3.1"/>
<line x1="117.8" y1="80.8" x2="168" y2="80.8" stroke="#000000" stroke-width="3.1"/>
<line x1="300" y1="56.8" x2="350.8" y2="56.8" stroke="#0b70b5" stroke-width="3.1"/>
<line x1="295.4" y1="80.8" x2="346" y2="80.8" stroke="#8a40ae" stroke-width="3.1"/>
<line x1="494.5" y1="56.8" x2="545" y2="56.8" stroke="#12a076" stroke-width="3.1"/>
<line x1="490" y1="80.8" x2="540.4" y2="80.8" stroke="#e8a01e" stroke-width="3.1"/>
<text><tspan x="82.28" y="22.3" font-size="26.5" textLength="387.14" lengthAdjust="spacingAndGlyphs">Axial Induction Factor at 75%R</tspan></text>
<text><tspan x="2.20" y="57.5" font-size="18.5" textLength="101.30" lengthAdjust="spacingAndGlyphs">AL yaw +15</tspan><tspan x="103.19" y="50.8" font-size="14.8" textLength="8.85" lengthAdjust="spacingAndGlyphs">o</tspan></text>
<text><tspan x="2.20" y="81.8" font-size="18.5" textLength="96.77" lengthAdjust="spacingAndGlyphs">AL yaw -15</tspan><tspan x="98.69" y="74.9" font-size="14.8" textLength="8.85" lengthAdjust="spacingAndGlyphs">o</tspan></text>
<text><tspan x="183.16" y="57.5" font-size="18.5" textLength="98.47" lengthAdjust="spacingAndGlyphs">LL yaw +15</tspan><tspan x="281.39" y="50.8" font-size="14.8" textLength="8.85" lengthAdjust="spacingAndGlyphs">o</tspan></text>
<text><tspan x="183.16" y="81.8" font-size="18.5" textLength="93.86" lengthAdjust="spacingAndGlyphs">LL yaw -15</tspan><tspan x="276.79" y="74.9" font-size="14.8" textLength="8.85" lengthAdjust="spacingAndGlyphs">o</tspan></text>
<text><tspan x="358.86" y="57.5" font-size="18.5" textLength="116.73" lengthAdjust="spacingAndGlyphs">BEM yaw +15</tspan><tspan x="475.39" y="50.8" font-size="14.8" textLength="8.85" lengthAdjust="spacingAndGlyphs">o</tspan></text>
<text><tspan x="358.86" y="81.8" font-size="18.5" textLength="112.12" lengthAdjust="spacingAndGlyphs">BEM yaw -15</tspan><tspan x="470.79" y="74.9" font-size="14.8" textLength="8.85" lengthAdjust="spacingAndGlyphs">o</tspan></text>
<text><tspan x="217.80" y="393.0" font-size="18.5" textLength="175.82" lengthAdjust="spacingAndGlyphs">Azimuth angle [deg]</tspan></text>
<text><tspan x="169.88" y="131.2" font-size="18.5" textLength="13.34" lengthAdjust="spacingAndGlyphs">U</tspan><tspan x="182.49" y="136.3" font-size="16.5" stroke="#000" stroke-width="0.8" textLength="11.43" lengthAdjust="spacingAndGlyphs">∞</tspan><tspan font-size="9"> </tspan><tspan x="199.24" y="131.5" font-size="13.6" stroke="#000" stroke-width="0.6" textLength="9.66" lengthAdjust="spacingAndGlyphs">=</tspan><tspan font-size="9"> </tspan><tspan x="214.98" y="131.2" font-size="18.5" textLength="47.13" lengthAdjust="spacingAndGlyphs">8 m/s</tspan></text>
<text><tspan x="396.52" y="131.2" font-size="18.5" textLength="12.86" lengthAdjust="spacingAndGlyphs">U</tspan><tspan x="408.89" y="136.0" font-size="16.5" stroke="#000" stroke-width="0.8" textLength="11.43" lengthAdjust="spacingAndGlyphs">∞</tspan><tspan font-size="9"> </tspan><tspan x="425.89" y="131.5" font-size="13.6" stroke="#000" stroke-width="0.6" textLength="9.07" lengthAdjust="spacingAndGlyphs">=</tspan><tspan font-size="9"> </tspan><tspan x="441.35" y="131.2" font-size="18.5" textLength="57.90" lengthAdjust="spacingAndGlyphs">11 m/s</tspan></text>
<text x="65.2" y="107.4" text-anchor="end" font-size="18.5" >0.45</text>
<text x="511.6" y="107.4" text-anchor="start" font-size="18.5" >0.45</text>
<text x="65.2" y="167.1" text-anchor="end" font-size="18.5" >0.4</text>
<text x="511.6" y="167.1" text-anchor="start" font-size="18.5" >0.4</text>
<text x="65.2" y="226.8" text-anchor="end" font-size="18.5" >0.35</text>
<text x="511.6" y="226.8" text-anchor="start" font-size="18.5" >0.35</text>
<text x="65.2" y="286.5" text-anchor="end" font-size="18.5" >0.3</text>
<text x="511.6" y="286.5" text-anchor="start" font-size="18.5" >0.3</text>
<text x="65.2" y="346.2" text-anchor="end" font-size="18.5" >0.25</text>
<text x="511.6" y="346.2" text-anchor="start" font-size="18.5" >0.25</text>
<text x="68.1" y="365.2" text-anchor="middle" font-size="18.5" >0</text>
<text x="310.3" y="365.2" text-anchor="middle" font-size="18.5" >0</text>
<text x="116.5" y="365.2" text-anchor="middle" font-size="18.5" >90</text>
<text x="358.7" y="365.2" text-anchor="middle" font-size="18.5" >90</text>
<text x="164.9" y="365.2" text-anchor="middle" font-size="18.5" >180</text>
<text x="407.1" y="365.2" text-anchor="middle" font-size="18.5" >180</text>
<text x="213.4" y="365.2" text-anchor="middle" font-size="18.5" >270</text>
<text x="455.5" y="365.2" text-anchor="middle" font-size="18.5" >270</text>
<text x="261.8" y="365.2" text-anchor="middle" font-size="18.5" >360</text>
<text x="503.9" y="365.2" text-anchor="middle" font-size="18.5" >360</text>
<text transform="translate(19.4,250.5) rotate(-90)" font-size="18.5" x="0 10 17.7 24 28.6 35 40.3">a [ - ]</text>
</svg>
</body></html>
